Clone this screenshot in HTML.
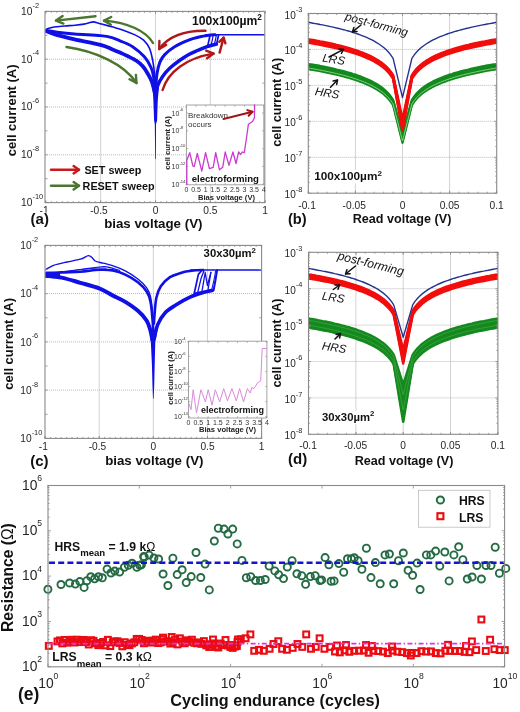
<!DOCTYPE html><html><head><meta charset="utf-8"><title>Resistive switching figure</title>
<style>html,body{margin:0;padding:0;background:#fff;width:520px;height:712px;overflow:hidden}svg{display:block;font-family:'Liberation Sans', Arial, Helvetica, sans-serif}</style></head><body>
<svg width="520" height="712" viewBox="0 0 520 712">
<rect width="520" height="712" fill="#fff"/>
<rect x="45" y="11.4" width="219.8" height="191.2" fill="#fff"/>
<line x1="100.7" y1="11.4" x2="100.7" y2="202.6" stroke="#d3d3d3" stroke-width="1" />
<line x1="155.5" y1="11.4" x2="155.5" y2="202.6" stroke="#d3d3d3" stroke-width="1" />
<line x1="210.3" y1="11.4" x2="210.3" y2="202.6" stroke="#d3d3d3" stroke-width="1" />
<line x1="45" y1="59.2" x2="264.8" y2="59.2" stroke="#b9b9b9" stroke-width="1" stroke-dasharray="1 1"/>
<line x1="45" y1="107" x2="264.8" y2="107" stroke="#b9b9b9" stroke-width="1" stroke-dasharray="1 1"/>
<line x1="45" y1="154.8" x2="264.8" y2="154.8" stroke="#b9b9b9" stroke-width="1" stroke-dasharray="1 1"/>
<path d="M45.3 30C45.9 29.7 47.5 28.8 49 28.3C50.5 27.8 51.3 27.4 54 27C56.7 26.6 61.5 26.3 65 26C68.5 25.7 71.8 25.5 75 25.2C78.2 24.9 81.7 24.5 84 24.1C86.3 23.7 87.5 23.2 89 22.8C90.5 22.4 91.8 21.9 93.3 21.9C94.8 21.9 96.6 22.6 98 23C99.4 23.4 99.2 23.5 101.5 24.1C103.8 24.7 108.2 25.8 112 26.8C115.8 27.9 120.2 29 124 30.4C127.8 31.8 131.7 33.3 135 34.9C138.3 36.5 141.2 38 143.6 40.2C146 42.5 148 44.9 149.5 48.4C151 51.9 152 56.8 152.8 61C153.6 65.2 154.1 69.2 154.5 73.7C154.9 78.2 155.2 85.6 155.3 88" stroke="#1010e6" stroke-width="1.6" fill="none" />
<path d="M45.3 30.4C47.3 30.7 52.4 31.6 57.3 32.2C62.2 32.8 67.4 33.4 74.6 34C81.8 34.6 94.3 35 100.5 35.6C106.7 36.2 108.8 36.7 112 37.6C115.2 38.5 116.6 39.3 120 40.8C123.4 42.3 128.5 44 132.6 46.7C136.7 49.4 141.3 53.3 144.4 56.8C147.5 60.3 149.6 64.3 151.2 67.8C152.8 71.3 153.1 74.2 153.7 77.9C154.3 81.6 154.8 88 155 90" stroke="#1010e6" stroke-width="2.9" fill="none" />
<path d="M45.3 30.8C47.3 31.5 52.4 33.8 57.3 35.2C62.2 36.6 67.4 37.8 74.6 39.4C81.8 41 94.3 43.2 100.5 44.8C106.7 46.4 108.8 47.9 112 49.2C115.2 50.5 117.3 51.4 120 52.6C122.7 53.8 125.2 54.8 128 56.2C130.8 57.6 134.3 59.3 136.8 61C139.3 62.7 141.2 64.4 143 66.5C144.8 68.6 146.3 71.1 147.8 73.7C149.3 76.3 150.9 79 152 82.1C153.1 85.1 154.2 90.3 154.6 92" stroke="#1010e6" stroke-width="3.8" fill="none" />
<line x1="205" y1="34.8" x2="264.8" y2="34.8" stroke="#1010e6" stroke-width="1.6" />
<path d="M155.6 90C155.8 87.4 156.2 78.8 156.9 74.2C157.6 69.6 158.5 65.7 159.8 62.4C161.1 59.1 162.2 57.2 164.7 54.6C167.2 52 170.5 49.2 174.6 46.7C178.7 44.2 185.2 41.4 189.3 39.8C193.4 38.2 195.8 37.8 199 37C202.2 36.2 205.9 35.6 208.7 35.2C211.5 34.8 214.8 34.9 216 34.8" stroke="#1010e6" stroke-width="3" fill="none" />
<path d="M156.4 92C156.7 90.8 156.8 87.6 157.9 85C159 82.4 160.8 79 162.8 76.2C164.8 73.4 166.9 70.9 169.7 68.3C172.5 65.7 176.2 62.8 179.5 60.5C182.8 58.2 186.2 56 189.3 54.3C192.4 52.6 195 51.6 198 50.3C201 49 203.8 47.7 207.1 46.6C210.3 45.5 215.8 44.3 217.5 43.8" stroke="#1010e6" stroke-width="3.4" fill="none" />
<polyline points="207.6,46.2 209,40 210,35.2" stroke="#1010e6" stroke-width="1.6" fill="none" stroke-linejoin="round" stroke-linecap="round" />
<polyline points="211,45.6 212.3,40 213.2,35.2" stroke="#1010e6" stroke-width="1.2" fill="none" stroke-linejoin="round" stroke-linecap="round" />
<polyline points="214.2,45 215.4,40 216.4,35.2" stroke="#1010e6" stroke-width="1.2" fill="none" stroke-linejoin="round" stroke-linecap="round" />
<polyline points="216.6,44.2 217.6,39.5 218.6,35" stroke="#1010e6" stroke-width="1.7" fill="none" stroke-linejoin="round" stroke-linecap="round" />
<line x1="206.5" y1="46.6" x2="218" y2="43.6" stroke="#1010e6" stroke-width="1.8" />
<path d="M152.4 86 L159.0 86 L157.9 99 L157.6 104 L157.1 120.6 L156.0 124 L155.9 158.5 L155.2 159.5 L154.8 124 L154.1 120.6 L153.5 104 L153.3 99 Z" stroke="none" stroke-width="1" fill="#1010e6" />
<path d="M95.5 16.2 L56 20.6" stroke="#4a7630" stroke-width="2.4" fill="none" stroke-linecap="round"/>
<polyline points="63.4,23.6 56,20.6 62.6,16" stroke="#4a7630" stroke-width="2.4" fill="none" stroke-linecap="round" stroke-linejoin="round"/>
<path d="M153 43 C146 31 128 22.5 104 20.6" stroke="#4a7630" stroke-width="2.4" fill="none" stroke-linecap="round"/>
<polyline points="110.9,24.7 104,20.6 111.2,17" stroke="#4a7630" stroke-width="2.4" fill="none" stroke-linecap="round" stroke-linejoin="round"/>
<path d="M66.5 47 C95 51 124 64 136.5 83" stroke="#4a7630" stroke-width="2.4" fill="none" stroke-linecap="round"/>
<polyline points="135.9,75 136.5,83 129.5,79.2" stroke="#4a7630" stroke-width="2.4" fill="none" stroke-linecap="round" stroke-linejoin="round"/>
<path d="M205.5 30.7 C190 30.5 170 34 159.2 49" stroke="#b01818" stroke-width="2.4" fill="none" stroke-linecap="round"/>
<polyline points="166.1,44.9 159.2,49 159.4,41" stroke="#b01818" stroke-width="2.4" fill="none" stroke-linecap="round" stroke-linejoin="round"/>
<path d="M162.6 90 C168 72 186 58 213.6 53.6" stroke="#b01818" stroke-width="2.4" fill="none" stroke-linecap="round"/>
<polyline points="206.2,50.6 213.6,53.6 207.1,58.2" stroke="#b01818" stroke-width="2.4" fill="none" stroke-linecap="round" stroke-linejoin="round"/>
<path d="M219.6 52.6 L223.6 37.6" stroke="#b01818" stroke-width="2.4" fill="none" stroke-linecap="round"/>
<polyline points="219.3,41.8 223.6,37.6 225.4,43.3" stroke="#b01818" stroke-width="2.4" fill="none" stroke-linecap="round" stroke-linejoin="round"/>
<rect x="190.5" y="14.6" width="72" height="13.2" fill="#fff"/>
<text x="192" y="25" font-size="12.2" font-weight="bold" text-anchor="start" fill="#111" font-style="normal" >100x100&#181;m<tspan font-size="8.2" dy="-4.6">2</tspan></text>
<path d="M51 169.7 L79 169.7" stroke="#c81a1a" stroke-width="2.4" fill="none" stroke-linecap="round"/>
<polyline points="73.6,166 79,169.7 73.6,173.4" stroke="#c81a1a" stroke-width="2.4" fill="none" stroke-linecap="round" stroke-linejoin="round"/>
<path d="M51 185.8 L79 185.8" stroke="#4a7630" stroke-width="2.4" fill="none" stroke-linecap="round"/>
<polyline points="73.6,182.1 79,185.8 73.6,189.5" stroke="#4a7630" stroke-width="2.4" fill="none" stroke-linecap="round" stroke-linejoin="round"/>
<text x="84.4" y="174" font-size="10.8" font-weight="bold" text-anchor="start" fill="#111" font-style="normal" >SET sweep</text>
<text x="82.6" y="190" font-size="10.8" font-weight="bold" text-anchor="start" fill="#111" font-style="normal" >RESET sweep</text>
<path d="M45.8 202.6v-2.5M45.8 11.4v2.5M100.7 202.6v-2.5M100.7 11.4v2.5M155.5 202.6v-2.5M155.5 11.4v2.5M210.3 202.6v-2.5M210.3 11.4v2.5M265.2 202.6v-2.5M265.2 11.4v2.5M45 202.6h2.5M264.8 202.6h-2.5M45 178.7h2.5M264.8 178.7h-2.5M45 154.8h2.5M264.8 154.8h-2.5M45 130.9h2.5M264.8 130.9h-2.5M45 107h2.5M264.8 107h-2.5M45 83.1h2.5M264.8 83.1h-2.5M45 59.2h2.5M264.8 59.2h-2.5M45 35.3h2.5M264.8 35.3h-2.5M45 11.4h2.5M264.8 11.4h-2.5M45.8 202.6v-1.5M45.8 11.4v1.5M51.3 202.6v-1.5M51.3 11.4v1.5M56.8 202.6v-1.5M56.8 11.4v1.5M62.3 202.6v-1.5M62.3 11.4v1.5M67.7 202.6v-1.5M67.7 11.4v1.5M73.2 202.6v-1.5M73.2 11.4v1.5M78.7 202.6v-1.5M78.7 11.4v1.5M84.2 202.6v-1.5M84.2 11.4v1.5M89.7 202.6v-1.5M89.7 11.4v1.5M95.2 202.6v-1.5M95.2 11.4v1.5M100.7 202.6v-1.5M100.7 11.4v1.5M106.1 202.6v-1.5M106.1 11.4v1.5M111.6 202.6v-1.5M111.6 11.4v1.5M117.1 202.6v-1.5M117.1 11.4v1.5M122.6 202.6v-1.5M122.6 11.4v1.5M128.1 202.6v-1.5M128.1 11.4v1.5M133.6 202.6v-1.5M133.6 11.4v1.5M139 202.6v-1.5M139 11.4v1.5M144.5 202.6v-1.5M144.5 11.4v1.5M150 202.6v-1.5M150 11.4v1.5M155.5 202.6v-1.5M155.5 11.4v1.5M161 202.6v-1.5M161 11.4v1.5M166.5 202.6v-1.5M166.5 11.4v1.5M172 202.6v-1.5M172 11.4v1.5M177.4 202.6v-1.5M177.4 11.4v1.5M182.9 202.6v-1.5M182.9 11.4v1.5M188.4 202.6v-1.5M188.4 11.4v1.5M193.9 202.6v-1.5M193.9 11.4v1.5M199.4 202.6v-1.5M199.4 11.4v1.5M204.9 202.6v-1.5M204.9 11.4v1.5M210.3 202.6v-1.5M210.3 11.4v1.5M215.8 202.6v-1.5M215.8 11.4v1.5M221.3 202.6v-1.5M221.3 11.4v1.5M226.8 202.6v-1.5M226.8 11.4v1.5M232.3 202.6v-1.5M232.3 11.4v1.5M237.8 202.6v-1.5M237.8 11.4v1.5M243.3 202.6v-1.5M243.3 11.4v1.5M248.7 202.6v-1.5M248.7 11.4v1.5M254.2 202.6v-1.5M254.2 11.4v1.5M259.7 202.6v-1.5M259.7 11.4v1.5M265.2 202.6v-1.5M265.2 11.4v1.5" stroke="#8a8a8a" stroke-width="0.8" fill="none" />
<rect x="45" y="11.4" width="219.8" height="191.2" fill="none" stroke="#8a8a8a" stroke-width="1.1"/>
<rect x="186.4" y="105" width="77.4" height="79.8" fill="#fff"/>
<rect x="186.4" y="105" width="77.4" height="79.8" fill="none" stroke="#9a9a9a" stroke-width="0.9"/>
<path d="M186.4 184.8v-1.8M186.4 105v1.8M196.1 184.8v-1.8M196.1 105v1.8M205.8 184.8v-1.8M205.8 105v1.8M215.4 184.8v-1.8M215.4 105v1.8M225.1 184.8v-1.8M225.1 105v1.8M234.8 184.8v-1.8M234.8 105v1.8M244.5 184.8v-1.8M244.5 105v1.8M254.1 184.8v-1.8M254.1 105v1.8M263.8 184.8v-1.8M263.8 105v1.8M186.4 113h1.8M263.8 113h-1.8M186.4 130.8h1.8M263.8 130.8h-1.8M186.4 148.6h1.8M263.8 148.6h-1.8M186.4 166.4h1.8M263.8 166.4h-1.8M186.4 184.2h1.8M263.8 184.2h-1.8" stroke="#9a9a9a" stroke-width="0.7" fill="none" />
<polyline points="186.8,184.5 186.8,160.3 189.7,152.7 192.9,166 194.2,166.6 197.3,153.3 201.8,171.1 205.6,152.7 209.4,168.6 213.2,167.3 215.7,152.7 219.5,169.8 222.7,167.3 225.2,152 229,165.4 232.9,152 236,163.5 238.6,152 240.5,154.6 242.4,152 244.3,152.7 246.2,140 248.4,124.2 252.5,121.5 254.4,118 254.6,105" stroke="#c93ccf" stroke-width="1.3" fill="none" stroke-linejoin="round" stroke-linecap="round" />
<text x="186.4" y="192.3" font-size="7" font-weight="normal" text-anchor="middle" fill="#333" font-style="normal" >0</text>
<text x="196.1" y="192.3" font-size="7" font-weight="normal" text-anchor="middle" fill="#333" font-style="normal" >0.5</text>
<text x="205.8" y="192.3" font-size="7" font-weight="normal" text-anchor="middle" fill="#333" font-style="normal" >1</text>
<text x="215.4" y="192.3" font-size="7" font-weight="normal" text-anchor="middle" fill="#333" font-style="normal" >1.5</text>
<text x="225.1" y="192.3" font-size="7" font-weight="normal" text-anchor="middle" fill="#333" font-style="normal" >2</text>
<text x="234.8" y="192.3" font-size="7" font-weight="normal" text-anchor="middle" fill="#333" font-style="normal" >2.5</text>
<text x="244.5" y="192.3" font-size="7" font-weight="normal" text-anchor="middle" fill="#333" font-style="normal" >3</text>
<text x="254.1" y="192.3" font-size="7" font-weight="normal" text-anchor="middle" fill="#333" font-style="normal" >3.5</text>
<text x="263.8" y="192.3" font-size="7" font-weight="normal" text-anchor="middle" fill="#333" font-style="normal" >4</text>
<text x="226.5" y="199.6" font-size="7.6" font-weight="bold" text-anchor="middle" fill="#222" font-style="normal" >Bias voltage (V)</text>
<text x="171.6" y="115.6" font-size="7" fill="#333">10<tspan font-size="4.2" dy="-4.2">-6</tspan></text>
<text x="171.6" y="133.4" font-size="7" fill="#333">10<tspan font-size="4.2" dy="-4.2">-8</tspan></text>
<text x="171.6" y="151.2" font-size="7" fill="#333">10<tspan font-size="4.2" dy="-4.2">-10</tspan></text>
<text x="171.6" y="169" font-size="7" fill="#333">10<tspan font-size="4.2" dy="-4.2">-12</tspan></text>
<text x="171.6" y="186.8" font-size="7" fill="#333">10<tspan font-size="4.2" dy="-4.2">-14</tspan></text>
<text transform="translate(170.2 143) rotate(-90)" font-size="7.6" font-weight="bold" text-anchor="middle" fill="#222">cell current (A)</text>
<text x="191.7" y="182" font-size="9.6" font-weight="bold" text-anchor="start" fill="#111" font-style="normal" >electroforming</text>
<text x="188" y="117.8" font-size="8" font-weight="normal" text-anchor="start" fill="#333" font-style="normal" >Breakdown</text>
<text x="188" y="127" font-size="8" font-weight="normal" text-anchor="start" fill="#333" font-style="normal" >occurs</text>
<path d="M223.5 119 L252.5 111.8" stroke="#a01515" stroke-width="2" fill="none" stroke-linecap="round"/>
<polyline points="247.3,110.1 252.5,111.8 248.6,115.7" stroke="#a01515" stroke-width="2" fill="none" stroke-linecap="round" stroke-linejoin="round"/>
<text x="21.1" y="14.8" font-size="10.2" fill="#262626">10<tspan font-size="7.4" dy="-7.2">-2</tspan></text>
<text x="21.1" y="62.6" font-size="10.2" fill="#262626">10<tspan font-size="7.4" dy="-7.2">-4</tspan></text>
<text x="21.1" y="110.4" font-size="10.2" fill="#262626">10<tspan font-size="7.4" dy="-7.2">-6</tspan></text>
<text x="21.1" y="158.2" font-size="10.2" fill="#262626">10<tspan font-size="7.4" dy="-7.2">-8</tspan></text>
<text x="21.1" y="206" font-size="10.2" fill="#262626">10<tspan font-size="7.4" dy="-7.2">-10</tspan></text>
<text x="44.1" y="214" font-size="10.2" font-weight="normal" text-anchor="middle" fill="#262626" font-style="normal" >-1</text>
<text x="99" y="214" font-size="10.2" font-weight="normal" text-anchor="middle" fill="#262626" font-style="normal" >-0.5</text>
<text x="155.5" y="214" font-size="10.2" font-weight="normal" text-anchor="middle" fill="#262626" font-style="normal" >0</text>
<text x="210.3" y="214" font-size="10.2" font-weight="normal" text-anchor="middle" fill="#262626" font-style="normal" >0.5</text>
<text x="265.2" y="214" font-size="10.2" font-weight="normal" text-anchor="middle" fill="#262626" font-style="normal" >1</text>
<text x="153.3" y="228.2" font-size="13.3" font-weight="bold" text-anchor="middle" fill="#111" font-style="normal" >bias voltage (V)</text>
<text transform="translate(16.2 110.3) rotate(-90)" font-size="13" font-weight="bold" text-anchor="middle" fill="#111">cell current (A)</text>
<rect x="31" y="212.6" width="18" height="15" fill="#fff"/>
<text x="30.6" y="223.6" font-size="15" font-weight="bold" text-anchor="start" fill="#111" font-style="normal" >(a)</text>
<rect x="308.3" y="13.5" width="188.4" height="179.7" fill="#fff"/>
<line x1="355.4" y1="13.5" x2="355.4" y2="193.2" stroke="#d3d3d3" stroke-width="1" />
<line x1="402.5" y1="13.5" x2="402.5" y2="193.2" stroke="#d3d3d3" stroke-width="1" />
<line x1="449.6" y1="13.5" x2="449.6" y2="193.2" stroke="#d3d3d3" stroke-width="1" />
<line x1="308.3" y1="49.4" x2="496.7" y2="49.4" stroke="#b9b9b9" stroke-width="1" stroke-dasharray="1 1"/>
<line x1="308.3" y1="85.4" x2="496.7" y2="85.4" stroke="#b9b9b9" stroke-width="1" stroke-dasharray="1 1"/>
<line x1="308.3" y1="121.3" x2="496.7" y2="121.3" stroke="#b9b9b9" stroke-width="1" stroke-dasharray="1 1"/>
<line x1="308.3" y1="157.3" x2="496.7" y2="157.3" stroke="#b9b9b9" stroke-width="1" stroke-dasharray="1 1"/>
<g stroke="#148a1e" stroke-width="2.3" fill="none" stroke-linejoin="round"><polyline points="308.3,63.9 310.7,64.3 313,64.7 315.4,65.1 317.7,65.5 320.1,66 322.4,66.4 324.8,66.9 327.1,67.4 329.5,67.9 331.9,68.4 334.2,68.9 336.6,69.5 338.9,70 341.3,70.6 343.6,71.2 346,71.9 348.3,72.5 350.7,73.2 353,74 355.4,74.7 357.8,75.5 360.1,76.4 362.5,77.3 364.8,78.2 367.2,79.2 369.5,80.3 371.9,81.4 374.2,82.7 376.6,84.1 378.9,85.5 381.3,87.2 383.7,89 386,91.1 388.4,93.5 390.7,96.4 393.1,99.8 402.5,133.5 411.9,99.8 414.3,96.4 416.6,93.5 419,91.1 421.3,89 423.7,87.2 426.1,85.5 428.4,84.1 430.8,82.7 433.1,81.4 435.5,80.3 437.8,79.2 440.2,78.2 442.5,77.3 444.9,76.4 447.2,75.5 449.6,74.7 452,74 454.3,73.2 456.7,72.5 459,71.9 461.4,71.2 463.7,70.6 466.1,70 468.4,69.5 470.8,68.9 473.1,68.4 475.5,67.9 477.9,67.4 480.2,66.9 482.6,66.4 484.9,66 487.3,65.5 489.6,65.1 492,64.7 494.3,64.3 496.7,63.9"/><polyline points="308.3,64.9 310.7,65.3 313,65.7 315.4,66.2 317.7,66.6 320.1,67 322.4,67.5 324.8,67.9 327.1,68.4 329.5,68.9 331.9,69.4 334.2,70 336.6,70.5 338.9,71.1 341.3,71.7 343.6,72.3 346,72.9 348.3,73.6 350.7,74.3 353,75 355.4,75.8 357.8,76.6 360.1,77.4 362.5,78.3 364.8,79.2 367.2,80.2 369.5,81.3 371.9,82.5 374.2,83.7 376.6,85.1 378.9,86.6 381.3,88.2 383.7,90.1 386,92.1 388.4,94.6 390.7,97.4 393.1,100.9 402.5,135.4 411.9,100.9 414.3,97.4 416.6,94.6 419,92.1 421.3,90.1 423.7,88.2 426.1,86.6 428.4,85.1 430.8,83.7 433.1,82.5 435.5,81.3 437.8,80.2 440.2,79.2 442.5,78.3 444.9,77.4 447.2,76.6 449.6,75.8 452,75 454.3,74.3 456.7,73.6 459,72.9 461.4,72.3 463.7,71.7 466.1,71.1 468.4,70.5 470.8,70 473.1,69.4 475.5,68.9 477.9,68.4 480.2,67.9 482.6,67.5 484.9,67 487.3,66.6 489.6,66.2 492,65.7 494.3,65.3 496.7,64.9"/><polyline points="308.3,66 310.7,66.4 313,66.8 315.4,67.2 317.7,67.6 320.1,68.1 322.4,68.5 324.8,69 327.1,69.5 329.5,70 331.9,70.5 334.2,71 336.6,71.5 338.9,72.1 341.3,72.7 343.6,73.3 346,74 348.3,74.6 350.7,75.3 353,76 355.4,76.8 357.8,77.6 360.1,78.4 362.5,79.3 364.8,80.3 367.2,81.3 369.5,82.4 371.9,83.5 374.2,84.8 376.6,86.1 378.9,87.6 381.3,89.3 383.7,91.1 386,93.2 388.4,95.6 390.7,98.4 393.1,101.9 402.5,137.2 411.9,101.9 414.3,98.4 416.6,95.6 419,93.2 421.3,91.1 423.7,89.3 426.1,87.6 428.4,86.1 430.8,84.8 433.1,83.5 435.5,82.4 437.8,81.3 440.2,80.3 442.5,79.3 444.9,78.4 447.2,77.6 449.6,76.8 452,76 454.3,75.3 456.7,74.6 459,74 461.4,73.3 463.7,72.7 466.1,72.1 468.4,71.5 470.8,71 473.1,70.5 475.5,70 477.9,69.5 480.2,69 482.6,68.5 484.9,68.1 487.3,67.6 489.6,67.2 492,66.8 494.3,66.4 496.7,66"/><polyline points="308.3,67 310.7,67.4 313,67.8 315.4,68.2 317.7,68.7 320.1,69.1 322.4,69.6 324.8,70 327.1,70.5 329.5,71 331.9,71.5 334.2,72 336.6,72.6 338.9,73.2 341.3,73.7 343.6,74.4 346,75 348.3,75.7 350.7,76.4 353,77.1 355.4,77.8 357.8,78.6 360.1,79.5 362.5,80.4 364.8,81.3 367.2,82.3 369.5,83.4 371.9,84.6 374.2,85.8 376.6,87.2 378.9,88.7 381.3,90.3 383.7,92.1 386,94.2 388.4,96.6 390.7,99.5 393.1,103 402.5,139.1 411.9,103 414.3,99.5 416.6,96.6 419,94.2 421.3,92.1 423.7,90.3 426.1,88.7 428.4,87.2 430.8,85.8 433.1,84.6 435.5,83.4 437.8,82.3 440.2,81.3 442.5,80.4 444.9,79.5 447.2,78.6 449.6,77.8 452,77.1 454.3,76.4 456.7,75.7 459,75 461.4,74.4 463.7,73.7 466.1,73.2 468.4,72.6 470.8,72 473.1,71.5 475.5,71 477.9,70.5 480.2,70 482.6,69.6 484.9,69.1 487.3,68.7 489.6,68.2 492,67.8 494.3,67.4 496.7,67"/><polyline points="308.3,68.1 310.7,68.5 313,68.9 315.4,69.3 317.7,69.7 320.1,70.1 322.4,70.6 324.8,71.1 327.1,71.5 329.5,72 331.9,72.6 334.2,73.1 336.6,73.6 338.9,74.2 341.3,74.8 343.6,75.4 346,76 348.3,76.7 350.7,77.4 353,78.1 355.4,78.9 357.8,79.7 360.1,80.5 362.5,81.4 364.8,82.4 367.2,83.4 369.5,84.4 371.9,85.6 374.2,86.9 376.6,88.2 378.9,89.7 381.3,91.3 383.7,93.2 386,95.3 388.4,97.7 390.7,100.5 393.1,104 402.5,140.9 411.9,104 414.3,100.5 416.6,97.7 419,95.3 421.3,93.2 423.7,91.3 426.1,89.7 428.4,88.2 430.8,86.9 433.1,85.6 435.5,84.4 437.8,83.4 440.2,82.4 442.5,81.4 444.9,80.5 447.2,79.7 449.6,78.9 452,78.1 454.3,77.4 456.7,76.7 459,76 461.4,75.4 463.7,74.8 466.1,74.2 468.4,73.6 470.8,73.1 473.1,72.6 475.5,72 477.9,71.5 480.2,71.1 482.6,70.6 484.9,70.1 487.3,69.7 489.6,69.3 492,68.9 494.3,68.5 496.7,68.1"/><polyline points="308.3,69.1 310.7,69.5 313,69.9 315.4,70.3 317.7,70.7 320.1,71.2 322.4,71.6 324.8,72.1 327.1,72.6 329.5,73.1 331.9,73.6 334.2,74.1 336.6,74.7 338.9,75.2 341.3,75.8 343.6,76.4 346,77.1 348.3,77.7 350.7,78.4 353,79.2 355.4,79.9 357.8,80.7 360.1,81.6 362.5,82.5 364.8,83.4 367.2,84.4 369.5,85.5 371.9,86.6 374.2,87.9 376.6,89.3 378.9,90.7 381.3,92.4 383.7,94.2 386,96.3 388.4,98.7 390.7,101.6 393.1,105 402.5,142.8 411.9,105 414.3,101.6 416.6,98.7 419,96.3 421.3,94.2 423.7,92.4 426.1,90.7 428.4,89.3 430.8,87.9 433.1,86.6 435.5,85.5 437.8,84.4 440.2,83.4 442.5,82.5 444.9,81.6 447.2,80.7 449.6,79.9 452,79.2 454.3,78.4 456.7,77.7 459,77.1 461.4,76.4 463.7,75.8 466.1,75.2 468.4,74.7 470.8,74.1 473.1,73.6 475.5,73.1 477.9,72.6 480.2,72.1 482.6,71.6 484.9,71.2 487.3,70.7 489.6,70.3 492,69.9 494.3,69.5 496.7,69.1"/></g>
<polyline points="308.3,68 310.7,68.4 313,68.8 315.4,69.2 317.7,69.6 320.1,70.1 322.4,70.5 324.8,71 327.1,71.5 329.5,72 331.9,72.5 334.2,73 336.6,73.6 338.9,74.1 341.3,74.7 343.6,75.3 346,76 348.3,76.6 350.7,77.3 353,78.1 355.4,78.8 357.8,79.6 360.1,80.5 362.5,81.4 364.8,82.3 367.2,83.3 369.5,84.4 371.9,85.5 374.2,86.8 376.6,88.2 378.9,89.6 381.3,91.3 383.7,93.1 386,95.2 388.4,97.6 390.7,100.5 393.1,103.9 402.5,141 411.9,103.9 414.3,100.5 416.6,97.6 419,95.2 421.3,93.1 423.7,91.3 426.1,89.6 428.4,88.2 430.8,86.8 433.1,85.5 435.5,84.4 437.8,83.3 440.2,82.3 442.5,81.4 444.9,80.5 447.2,79.6 449.6,78.8 452,78.1 454.3,77.3 456.7,76.6 459,76 461.4,75.3 463.7,74.7 466.1,74.1 468.4,73.6 470.8,73 473.1,72.5 475.5,72 477.9,71.5 480.2,71 482.6,70.5 484.9,70.1 487.3,69.6 489.6,69.2 492,68.8 494.3,68.4 496.7,68" stroke="#8ad68a" stroke-width="0.9" fill="none" stroke-linejoin="round"/>
<g stroke="#f20d0d" stroke-width="2.5" fill="none" stroke-linejoin="round"><polyline points="308.3,39.3 310.7,39.7 313,40.1 315.4,40.5 317.7,40.9 320.1,41.4 322.4,41.8 324.8,42.3 327.1,42.8 329.5,43.3 331.9,43.8 334.2,44.3 336.6,44.9 338.9,45.4 341.3,46 343.6,46.6 346,47.3 348.3,47.9 350.7,48.6 353,49.4 355.4,50.1 357.8,50.9 360.1,51.8 362.5,52.7 364.8,53.6 367.2,54.6 369.5,55.7 371.9,56.8 374.2,58.1 376.6,59.5 378.9,60.9 381.3,62.6 383.7,64.4 386,66.5 388.4,68.9 390.7,71.8 393.1,75.2 402.5,119.6 411.9,75.2 414.3,71.8 416.6,68.9 419,66.5 421.3,64.4 423.7,62.6 426.1,60.9 428.4,59.5 430.8,58.1 433.1,56.8 435.5,55.7 437.8,54.6 440.2,53.6 442.5,52.7 444.9,51.8 447.2,50.9 449.6,50.1 452,49.4 454.3,48.6 456.7,47.9 459,47.3 461.4,46.6 463.7,46 466.1,45.4 468.4,44.9 470.8,44.3 473.1,43.8 475.5,43.3 477.9,42.8 480.2,42.3 482.6,41.8 484.9,41.4 487.3,40.9 489.6,40.5 492,40.1 494.3,39.7 496.7,39.3"/><polyline points="308.3,40 310.7,40.4 313,40.8 315.4,41.2 317.7,41.6 320.1,42.1 322.4,42.5 324.8,43 327.1,43.5 329.5,44 331.9,44.5 334.2,45 336.6,45.5 338.9,46.1 341.3,46.7 343.6,47.3 346,48 348.3,48.6 350.7,49.3 353,50 355.4,50.8 357.8,51.6 360.1,52.4 362.5,53.3 364.8,54.3 367.2,55.3 369.5,56.4 371.9,57.5 374.2,58.8 376.6,60.1 378.9,61.6 381.3,63.3 383.7,65.1 386,67.2 388.4,69.6 390.7,72.4 393.1,75.9 402.5,121.8 411.9,75.9 414.3,72.4 416.6,69.6 419,67.2 421.3,65.1 423.7,63.3 426.1,61.6 428.4,60.1 430.8,58.8 433.1,57.5 435.5,56.4 437.8,55.3 440.2,54.3 442.5,53.3 444.9,52.4 447.2,51.6 449.6,50.8 452,50 454.3,49.3 456.7,48.6 459,48 461.4,47.3 463.7,46.7 466.1,46.1 468.4,45.5 470.8,45 473.1,44.5 475.5,44 477.9,43.5 480.2,43 482.6,42.5 484.9,42.1 487.3,41.6 489.6,41.2 492,40.8 494.3,40.4 496.7,40"/><polyline points="308.3,40.7 310.7,41.1 313,41.5 315.4,41.9 317.7,42.3 320.1,42.7 322.4,43.2 324.8,43.7 327.1,44.1 329.5,44.6 331.9,45.2 334.2,45.7 336.6,46.2 338.9,46.8 341.3,47.4 343.6,48 346,48.6 348.3,49.3 350.7,50 353,50.7 355.4,51.5 357.8,52.3 360.1,53.1 362.5,54 364.8,55 367.2,56 369.5,57 371.9,58.2 374.2,59.5 376.6,60.8 378.9,62.3 381.3,63.9 383.7,65.8 386,67.9 388.4,70.3 390.7,73.1 393.1,76.6 402.5,124.1 411.9,76.6 414.3,73.1 416.6,70.3 419,67.9 421.3,65.8 423.7,63.9 426.1,62.3 428.4,60.8 430.8,59.5 433.1,58.2 435.5,57 437.8,56 440.2,55 442.5,54 444.9,53.1 447.2,52.3 449.6,51.5 452,50.7 454.3,50 456.7,49.3 459,48.6 461.4,48 463.7,47.4 466.1,46.8 468.4,46.2 470.8,45.7 473.1,45.2 475.5,44.6 477.9,44.1 480.2,43.7 482.6,43.2 484.9,42.7 487.3,42.3 489.6,41.9 492,41.5 494.3,41.1 496.7,40.7"/><polyline points="308.3,41.3 310.7,41.7 313,42.1 315.4,42.6 317.7,43 320.1,43.4 322.4,43.9 324.8,44.3 327.1,44.8 329.5,45.3 331.9,45.8 334.2,46.4 336.6,46.9 338.9,47.5 341.3,48.1 343.6,48.7 346,49.3 348.3,50 350.7,50.7 353,51.4 355.4,52.2 357.8,53 360.1,53.8 362.5,54.7 364.8,55.6 367.2,56.6 369.5,57.7 371.9,58.9 374.2,60.1 376.6,61.5 378.9,63 381.3,64.6 383.7,66.5 386,68.5 388.4,71 390.7,73.8 393.1,77.3 402.5,126.3 411.9,77.3 414.3,73.8 416.6,71 419,68.5 421.3,66.5 423.7,64.6 426.1,63 428.4,61.5 430.8,60.1 433.1,58.9 435.5,57.7 437.8,56.6 440.2,55.6 442.5,54.7 444.9,53.8 447.2,53 449.6,52.2 452,51.4 454.3,50.7 456.7,50 459,49.3 461.4,48.7 463.7,48.1 466.1,47.5 468.4,46.9 470.8,46.4 473.1,45.8 475.5,45.3 477.9,44.8 480.2,44.3 482.6,43.9 484.9,43.4 487.3,43 489.6,42.6 492,42.1 494.3,41.7 496.7,41.3"/><polyline points="308.3,42 310.7,42.4 313,42.8 315.4,43.2 317.7,43.7 320.1,44.1 322.4,44.6 324.8,45 327.1,45.5 329.5,46 331.9,46.5 334.2,47 336.6,47.6 338.9,48.2 341.3,48.7 343.6,49.4 346,50 348.3,50.7 350.7,51.4 353,52.1 355.4,52.8 357.8,53.6 360.1,54.5 362.5,55.4 364.8,56.3 367.2,57.3 369.5,58.4 371.9,59.6 374.2,60.8 376.6,62.2 378.9,63.7 381.3,65.3 383.7,67.1 386,69.2 388.4,71.6 390.7,74.5 393.1,78 402.5,128.6 411.9,78 414.3,74.5 416.6,71.6 419,69.2 421.3,67.1 423.7,65.3 426.1,63.7 428.4,62.2 430.8,60.8 433.1,59.6 435.5,58.4 437.8,57.3 440.2,56.3 442.5,55.4 444.9,54.5 447.2,53.6 449.6,52.8 452,52.1 454.3,51.4 456.7,50.7 459,50 461.4,49.4 463.7,48.7 466.1,48.2 468.4,47.6 470.8,47 473.1,46.5 475.5,46 477.9,45.5 480.2,45 482.6,44.6 484.9,44.1 487.3,43.7 489.6,43.2 492,42.8 494.3,42.4 496.7,42"/><polyline points="308.3,42.7 310.7,43.1 313,43.5 315.4,43.9 317.7,44.3 320.1,44.8 322.4,45.2 324.8,45.7 327.1,46.2 329.5,46.7 331.9,47.2 334.2,47.7 336.6,48.3 338.9,48.8 341.3,49.4 343.6,50 346,50.7 348.3,51.3 350.7,52 353,52.8 355.4,53.5 357.8,54.3 360.1,55.2 362.5,56.1 364.8,57 367.2,58 369.5,59.1 371.9,60.2 374.2,61.5 376.6,62.9 378.9,64.3 381.3,66 383.7,67.8 386,69.9 388.4,72.3 390.7,75.2 393.1,78.6 402.5,130.8 411.9,78.6 414.3,75.2 416.6,72.3 419,69.9 421.3,67.8 423.7,66 426.1,64.3 428.4,62.9 430.8,61.5 433.1,60.2 435.5,59.1 437.8,58 440.2,57 442.5,56.1 444.9,55.2 447.2,54.3 449.6,53.5 452,52.8 454.3,52 456.7,51.3 459,50.7 461.4,50 463.7,49.4 466.1,48.8 468.4,48.3 470.8,47.7 473.1,47.2 475.5,46.7 477.9,46.2 480.2,45.7 482.6,45.2 484.9,44.8 487.3,44.3 489.6,43.9 492,43.5 494.3,43.1 496.7,42.7"/></g>
<polyline points="308.3,22.4 310.7,22.8 313,23.2 315.4,23.6 317.7,24 320.1,24.5 322.4,24.9 324.8,25.4 327.1,25.9 329.5,26.4 331.9,26.9 334.2,27.4 336.6,28 338.9,28.5 341.3,29.1 343.6,29.7 346,30.4 348.3,31 350.7,31.7 353,32.5 355.4,33.2 357.8,34 360.1,34.9 362.5,35.8 364.8,36.7 367.2,37.7 369.5,38.8 371.9,39.9 374.2,41.2 376.6,42.6 378.9,44 381.3,45.7 383.7,47.5 386,49.6 388.4,52 390.7,54.9 393.1,58.3 402.5,97.6 411.9,58.3 414.3,54.9 416.6,52 419,49.6 421.3,47.5 423.7,45.7 426.1,44 428.4,42.6 430.8,41.2 433.1,39.9 435.5,38.8 437.8,37.7 440.2,36.7 442.5,35.8 444.9,34.9 447.2,34 449.6,33.2 452,32.5 454.3,31.7 456.7,31 459,30.4 461.4,29.7 463.7,29.1 466.1,28.5 468.4,28 470.8,27.4 473.1,26.9 475.5,26.4 477.9,25.9 480.2,25.4 482.6,24.9 484.9,24.5 487.3,24 489.6,23.6 492,23.2 494.3,22.8 496.7,22.4" stroke="#24338f" stroke-width="1.4" fill="none" stroke-linejoin="round"/>
<path d="M308.3 193.2v-2.5M308.3 13.5v2.5M355.4 193.2v-2.5M355.4 13.5v2.5M402.5 193.2v-2.5M402.5 13.5v2.5M449.6 193.2v-2.5M449.6 13.5v2.5M496.7 193.2v-2.5M496.7 13.5v2.5M308.3 13.5h2.5M496.7 13.5h-2.5M308.3 49.4h2.5M496.7 49.4h-2.5M308.3 85.4h2.5M496.7 85.4h-2.5M308.3 121.3h2.5M496.7 121.3h-2.5M308.3 157.3h2.5M496.7 157.3h-2.5M308.3 193.2h2.5M496.7 193.2h-2.5M308.3 193.2v-1.5M308.3 13.5v1.5M317.7 193.2v-1.5M317.7 13.5v1.5M327.1 193.2v-1.5M327.1 13.5v1.5M336.6 193.2v-1.5M336.6 13.5v1.5M346 193.2v-1.5M346 13.5v1.5M355.4 193.2v-1.5M355.4 13.5v1.5M364.8 193.2v-1.5M364.8 13.5v1.5M374.2 193.2v-1.5M374.2 13.5v1.5M383.7 193.2v-1.5M383.7 13.5v1.5M393.1 193.2v-1.5M393.1 13.5v1.5M402.5 193.2v-1.5M402.5 13.5v1.5M411.9 193.2v-1.5M411.9 13.5v1.5M421.3 193.2v-1.5M421.3 13.5v1.5M430.8 193.2v-1.5M430.8 13.5v1.5M440.2 193.2v-1.5M440.2 13.5v1.5M449.6 193.2v-1.5M449.6 13.5v1.5M459 193.2v-1.5M459 13.5v1.5M468.4 193.2v-1.5M468.4 13.5v1.5M477.9 193.2v-1.5M477.9 13.5v1.5M487.3 193.2v-1.5M487.3 13.5v1.5M496.7 193.2v-1.5M496.7 13.5v1.5M308.3 38.6h1.5M496.7 38.6h-1.5M308.3 32.3h1.5M496.7 32.3h-1.5M308.3 27.8h1.5M496.7 27.8h-1.5M308.3 24.3h1.5M496.7 24.3h-1.5M308.3 21.5h1.5M496.7 21.5h-1.5M308.3 19.1h1.5M496.7 19.1h-1.5M308.3 17h1.5M496.7 17h-1.5M308.3 15.1h1.5M496.7 15.1h-1.5M308.3 74.6h1.5M496.7 74.6h-1.5M308.3 68.2h1.5M496.7 68.2h-1.5M308.3 63.7h1.5M496.7 63.7h-1.5M308.3 60.3h1.5M496.7 60.3h-1.5M308.3 57.4h1.5M496.7 57.4h-1.5M308.3 55h1.5M496.7 55h-1.5M308.3 52.9h1.5M496.7 52.9h-1.5M308.3 51.1h1.5M496.7 51.1h-1.5M308.3 110.5h1.5M496.7 110.5h-1.5M308.3 104.2h1.5M496.7 104.2h-1.5M308.3 99.7h1.5M496.7 99.7h-1.5M308.3 96.2h1.5M496.7 96.2h-1.5M308.3 93.4h1.5M496.7 93.4h-1.5M308.3 90.9h1.5M496.7 90.9h-1.5M308.3 88.9h1.5M496.7 88.9h-1.5M308.3 87h1.5M496.7 87h-1.5M308.3 146.4h1.5M496.7 146.4h-1.5M308.3 140.1h1.5M496.7 140.1h-1.5M308.3 135.6h1.5M496.7 135.6h-1.5M308.3 132.1h1.5M496.7 132.1h-1.5M308.3 129.3h1.5M496.7 129.3h-1.5M308.3 126.9h1.5M496.7 126.9h-1.5M308.3 124.8h1.5M496.7 124.8h-1.5M308.3 123h1.5M496.7 123h-1.5M308.3 182.4h1.5M496.7 182.4h-1.5M308.3 176.1h1.5M496.7 176.1h-1.5M308.3 171.6h1.5M496.7 171.6h-1.5M308.3 168.1h1.5M496.7 168.1h-1.5M308.3 165.2h1.5M496.7 165.2h-1.5M308.3 162.8h1.5M496.7 162.8h-1.5M308.3 160.7h1.5M496.7 160.7h-1.5M308.3 158.9h1.5M496.7 158.9h-1.5" stroke="#8a8a8a" stroke-width="0.8" fill="none" />
<rect x="308.3" y="13.5" width="188.4" height="179.7" fill="none" stroke="#8a8a8a" stroke-width="1.1"/>
<text transform="translate(344.6 19.8) rotate(15)" font-size="11.6" font-style="italic" fill="#111">post-forming</text>
<path d="M361 25 L352.5 31.8" stroke="#111" stroke-width="1.5" fill="none" stroke-linecap="round"/>
<polyline points="357,31.6 352.5,31.8 353.9,27.5" stroke="#111" stroke-width="1.5" fill="none" stroke-linecap="round" stroke-linejoin="round"/>
<text transform="translate(322 61.5) rotate(9)" font-size="11.6" font-style="italic" fill="#111">LRS</text>
<path d="M329 57 L343.5 49.4" stroke="#111" stroke-width="1.5" fill="none" stroke-linecap="round"/>
<polyline points="339,48.9 343.5,49.4 341.4,53.4" stroke="#111" stroke-width="1.5" fill="none" stroke-linecap="round" stroke-linejoin="round"/>
<text transform="translate(314.5 95) rotate(9)" font-size="11.6" font-style="italic" fill="#111">HRS</text>
<path d="M330.5 87.2 L337.5 80" stroke="#111" stroke-width="1.5" fill="none" stroke-linecap="round"/>
<polyline points="333.1,80.9 337.5,80 336.7,84.4" stroke="#111" stroke-width="1.5" fill="none" stroke-linecap="round" stroke-linejoin="round"/>
<rect x="312.6" y="169.8" width="71" height="13.4" fill="#fff"/>
<text x="314.2" y="180.2" font-size="11.8" font-weight="bold" text-anchor="start" fill="#111" font-style="normal" >100x100&#181;m<tspan font-size="8" dy="-4.4">2</tspan></text>
<text x="284.6" y="18.5" font-size="10" fill="#262626">10<tspan font-size="7.4" dy="-6.4">-3</tspan></text>
<text x="284.6" y="54.4" font-size="10" fill="#262626">10<tspan font-size="7.4" dy="-6.4">-4</tspan></text>
<text x="284.6" y="90.4" font-size="10" fill="#262626">10<tspan font-size="7.4" dy="-6.4">-5</tspan></text>
<text x="284.6" y="126.3" font-size="10" fill="#262626">10<tspan font-size="7.4" dy="-6.4">-6</tspan></text>
<text x="284.6" y="162.3" font-size="10" fill="#262626">10<tspan font-size="7.4" dy="-6.4">-7</tspan></text>
<text x="284.6" y="198.2" font-size="10" fill="#262626">10<tspan font-size="7.4" dy="-6.4">-8</tspan></text>
<text x="307.1" y="208.5" font-size="10.2" font-weight="normal" text-anchor="middle" fill="#262626" font-style="normal" >-0.1</text>
<text x="354.2" y="208.5" font-size="10.2" font-weight="normal" text-anchor="middle" fill="#262626" font-style="normal" >-0.05</text>
<text x="402.5" y="208.5" font-size="10.2" font-weight="normal" text-anchor="middle" fill="#262626" font-style="normal" >0</text>
<text x="449.6" y="208.5" font-size="10.2" font-weight="normal" text-anchor="middle" fill="#262626" font-style="normal" >0.05</text>
<text x="496.7" y="208.5" font-size="10.2" font-weight="normal" text-anchor="middle" fill="#262626" font-style="normal" >0.1</text>
<text x="402" y="223.3" font-size="12.6" font-weight="bold" text-anchor="middle" fill="#111" font-style="normal" >Read voltage (V)</text>
<text transform="translate(281 102.3) rotate(-90)" font-size="12.6" font-weight="bold" text-anchor="middle" fill="#111">cell current (A)</text>
<text x="288" y="224" font-size="14.6" font-weight="bold" text-anchor="start" fill="#111" font-style="normal" >(b)</text>
<rect x="45" y="245.4" width="216.6" height="193" fill="#fff"/>
<line x1="99.2" y1="245.4" x2="99.2" y2="438.4" stroke="#d3d3d3" stroke-width="1" />
<line x1="153.3" y1="245.4" x2="153.3" y2="438.4" stroke="#d3d3d3" stroke-width="1" />
<line x1="207.5" y1="245.4" x2="207.5" y2="438.4" stroke="#d3d3d3" stroke-width="1" />
<line x1="45" y1="293.6" x2="261.6" y2="293.6" stroke="#b9b9b9" stroke-width="1" stroke-dasharray="1 1"/>
<line x1="45" y1="341.9" x2="261.6" y2="341.9" stroke="#b9b9b9" stroke-width="1" stroke-dasharray="1 1"/>
<line x1="45" y1="390.1" x2="261.6" y2="390.1" stroke="#b9b9b9" stroke-width="1" stroke-dasharray="1 1"/>
<path d="M45.2 269.9C46.6 269.1 49.9 266.7 53.5 265.4C57.1 264.1 62.5 263 67 262C71.5 261 77.2 260.1 80.4 259.2C83.6 258.3 84.6 257.2 86 256.6C87.4 256 87.6 255.5 88.6 255.6C89.6 255.7 90.7 256.4 91.8 257.3C92.9 258.2 93.3 260 95.2 261C97.1 262 100.4 262.4 103.3 263.2C106.2 264 108.9 264.4 112.6 265.7C116.3 267 121.1 268.6 125.3 270.8C129.5 273 134.3 276.2 137.9 279C141.5 281.8 144.6 284.9 146.7 287.8C148.8 290.8 149.6 292.7 150.5 296.7C151.4 300.7 152 307.1 152.4 311.8C152.8 316.5 153.1 322.8 153.2 325" stroke="#1010e6" stroke-width="1.4" fill="none" />
<path d="M45.2 273.5C47.9 273.3 55.6 272.7 61.5 272.4C67.4 272.1 74.1 272.1 80.4 271.7C86.7 271.3 93.8 270 99.2 269.8C104.6 269.6 108.2 269.6 112.6 270.4C116.9 271.2 121.1 272.6 125.3 274.6C129.5 276.6 134.3 279.4 137.9 282.2C141.5 285 144.6 288.4 146.7 291.6C148.8 294.9 149.6 297.3 150.5 301.7C151.4 306.1 152 313.3 152.4 318C152.8 322.7 153.1 328 153.2 330" stroke="#1010e6" stroke-width="2.6" fill="none" />
<path d="M60 272C63.3 271.6 73.5 270.3 80 269.5C86.5 268.7 95.2 267.5 99.2 267C103.2 266.5 102.2 266.5 104 266.6C105.8 266.7 107.3 266.9 110 267.6C112.7 268.3 118.3 270.1 120 270.6" stroke="#1010e6" stroke-width="1.1" fill="none" />
<path d="M70 271C73.3 270.6 84.5 269.1 90 268.6C95.5 268.1 100.2 267.9 103 268C105.8 268.1 106.3 269.2 107 269.5" stroke="#1010e6" stroke-width="0.9" fill="none" />
<path d="M45.2 275.5C47.9 275.9 55.6 276.4 61.5 277.6C67.4 278.8 74.1 281 80.4 282.8C86.7 284.6 93.8 286.3 99.2 288.4C104.6 290.5 108.2 293.1 112.6 295.4C116.9 297.6 121.1 299.3 125.3 301.9C129.5 304.5 134.3 307.7 137.9 310.8C141.5 313.9 144.6 317.4 146.7 320.7C148.8 324 149.5 327.4 150.5 330.8C151.5 334.2 152.2 339.3 152.6 341" stroke="#1010e6" stroke-width="4" fill="none" />
<path d="M45.5 271.5 L60 272 L60 278.5 L45.5 277.8 Z" stroke="none" stroke-width="1" fill="#1010e6" />
<line x1="190" y1="270" x2="261.6" y2="270" stroke="#1010e6" stroke-width="1.6" />
<path d="M153.8 324.6C154.2 320.2 155 304.9 156.2 298.5C157.4 292.1 158.5 289.8 160.8 286.2C163.1 282.6 166.7 279.4 170 277.2C173.3 275 177.8 274 180.8 273C183.8 272 185.5 271.7 188 271.2C190.5 270.7 193.3 270.4 196 270.2C198.7 270 202.7 270 204 270" stroke="#1010e6" stroke-width="2.6" fill="none" />
<path d="M153.8 340C154.5 337.4 155.8 329.2 157.7 324.6C159.6 320 162.3 315.8 165.4 312.5C168.5 309.2 172.1 307.4 176.2 304.8C180.3 302.2 185.9 299.1 190 297.2C194.1 295.3 197 294.4 200.8 293.2C204.6 292 211 290.7 213 290.2" stroke="#1010e6" stroke-width="3.6" fill="none" />
<polyline points="194.2,293.5 196.5,283 198.4,274.4 201.9,270.2" stroke="#1010e6" stroke-width="1.7" fill="none" stroke-linejoin="round" stroke-linecap="round" />
<polyline points="197.7,292.4 201.2,277.9 203.9,271" stroke="#1010e6" stroke-width="1.3" fill="none" stroke-linejoin="round" stroke-linecap="round" />
<polyline points="202,291.2 205.2,272.5 207.4,285.5 210.9,272.3" stroke="#1010e6" stroke-width="1.3" fill="none" stroke-linejoin="round" stroke-linecap="round" />
<polyline points="208.1,289.4 210.9,272.3" stroke="#1010e6" stroke-width="1.2" fill="none" stroke-linejoin="round" stroke-linecap="round" />
<polyline points="213.6,290.3 215.5,280 217.1,270.2" stroke="#1010e6" stroke-width="2" fill="none" stroke-linejoin="round" stroke-linecap="round" />
<polyline points="211.5,290.6 214.2,279 215.6,271" stroke="#1010e6" stroke-width="1.1" fill="none" stroke-linejoin="round" stroke-linecap="round" />
<line x1="194.2" y1="293.8" x2="213.6" y2="290.3" stroke="#1010e6" stroke-width="2.4" />
<path d="M149.2 330 L157.5 330 L156.4 337 L155.3 341.2 L154.7 364 L154.2 386 L153.6 398.7 L153.0 398.7 L152.5 386 L151.9 364 L150.8 341.2 L150.2 337 Z" stroke="none" stroke-width="1" fill="#1010e6" />
<rect x="202.2" y="247.6" width="55" height="13" fill="#fff"/>
<text x="203.6" y="257.4" font-size="11.3" font-weight="bold" text-anchor="start" fill="#111" font-style="normal" >30x30&#181;m<tspan font-size="7.8" dy="-4.3">2</tspan></text>
<path d="M45 438.4v-2.5M45 245.4v2.5M99.2 438.4v-2.5M99.2 245.4v2.5M153.3 438.4v-2.5M153.3 245.4v2.5M207.5 438.4v-2.5M207.5 245.4v2.5M261.6 438.4v-2.5M261.6 245.4v2.5M45 438.4h2.5M261.6 438.4h-2.5M45 414.3h2.5M261.6 414.3h-2.5M45 390.1h2.5M261.6 390.1h-2.5M45 366h2.5M261.6 366h-2.5M45 341.9h2.5M261.6 341.9h-2.5M45 317.8h2.5M261.6 317.8h-2.5M45 293.6h2.5M261.6 293.6h-2.5M45 269.5h2.5M261.6 269.5h-2.5M45 245.4h2.5M261.6 245.4h-2.5M45 438.4v-1.5M45 245.4v1.5M50.4 438.4v-1.5M50.4 245.4v1.5M55.8 438.4v-1.5M55.8 245.4v1.5M61.2 438.4v-1.5M61.2 245.4v1.5M66.7 438.4v-1.5M66.7 245.4v1.5M72.1 438.4v-1.5M72.1 245.4v1.5M77.5 438.4v-1.5M77.5 245.4v1.5M82.9 438.4v-1.5M82.9 245.4v1.5M88.3 438.4v-1.5M88.3 245.4v1.5M93.7 438.4v-1.5M93.7 245.4v1.5M99.2 438.4v-1.5M99.2 245.4v1.5M104.6 438.4v-1.5M104.6 245.4v1.5M110 438.4v-1.5M110 245.4v1.5M115.4 438.4v-1.5M115.4 245.4v1.5M120.8 438.4v-1.5M120.8 245.4v1.5M126.2 438.4v-1.5M126.2 245.4v1.5M131.6 438.4v-1.5M131.6 245.4v1.5M137.1 438.4v-1.5M137.1 245.4v1.5M142.5 438.4v-1.5M142.5 245.4v1.5M147.9 438.4v-1.5M147.9 245.4v1.5M153.3 438.4v-1.5M153.3 245.4v1.5M158.7 438.4v-1.5M158.7 245.4v1.5M164.1 438.4v-1.5M164.1 245.4v1.5M169.5 438.4v-1.5M169.5 245.4v1.5M175 438.4v-1.5M175 245.4v1.5M180.4 438.4v-1.5M180.4 245.4v1.5M185.8 438.4v-1.5M185.8 245.4v1.5M191.2 438.4v-1.5M191.2 245.4v1.5M196.6 438.4v-1.5M196.6 245.4v1.5M202 438.4v-1.5M202 245.4v1.5M207.5 438.4v-1.5M207.5 245.4v1.5M212.9 438.4v-1.5M212.9 245.4v1.5M218.3 438.4v-1.5M218.3 245.4v1.5M223.7 438.4v-1.5M223.7 245.4v1.5M229.1 438.4v-1.5M229.1 245.4v1.5M234.5 438.4v-1.5M234.5 245.4v1.5M239.9 438.4v-1.5M239.9 245.4v1.5M245.4 438.4v-1.5M245.4 245.4v1.5M250.8 438.4v-1.5M250.8 245.4v1.5M256.2 438.4v-1.5M256.2 245.4v1.5M261.6 438.4v-1.5M261.6 245.4v1.5" stroke="#8a8a8a" stroke-width="0.8" fill="none" />
<rect x="45" y="245.4" width="216.6" height="193" fill="none" stroke="#8a8a8a" stroke-width="1.1"/>
<rect x="188.5" y="341.2" width="78.4" height="76.8" fill="#fff"/>
<rect x="188.5" y="341.2" width="78.4" height="76.8" fill="none" stroke="#9a9a9a" stroke-width="0.9"/>
<path d="M188.5 418v-1.8M188.5 341.2v1.8M198.3 418v-1.8M198.3 341.2v1.8M208.1 418v-1.8M208.1 341.2v1.8M217.9 418v-1.8M217.9 341.2v1.8M227.7 418v-1.8M227.7 341.2v1.8M237.5 418v-1.8M237.5 341.2v1.8M247.3 418v-1.8M247.3 341.2v1.8M257.1 418v-1.8M257.1 341.2v1.8M266.9 418v-1.8M266.9 341.2v1.8M188.5 341.4h1.8M266.9 341.4h-1.8M188.5 356.4h1.8M266.9 356.4h-1.8M188.5 371.5h1.8M266.9 371.5h-1.8M188.5 386.5h1.8M266.9 386.5h-1.8M188.5 401.6h1.8M266.9 401.6h-1.8M188.5 416.6h1.8M266.9 416.6h-1.8" stroke="#9a9a9a" stroke-width="0.7" fill="none" />
<polyline points="188.8,403 191,409.6 193.2,389.7 196.5,413 200.9,389.7 205.4,401.9 208.2,389.7 212,405.2 215.3,389.7 219.7,401.9 223.7,388.6 227.5,400.8 231.9,388.6 236.3,400.8 239.6,388.6 243.6,401.9 247.4,388.6 250.3,393 251.8,387.5 254,388.6 257.3,383.1 260.7,380.9 262.2,348.6 266.7,348.4" stroke="#d98ad9" stroke-width="1" fill="none" stroke-linejoin="round" stroke-linecap="round" />
<text x="188.5" y="425" font-size="7" font-weight="normal" text-anchor="middle" fill="#333" font-style="normal" >0</text>
<text x="198.3" y="425" font-size="7" font-weight="normal" text-anchor="middle" fill="#333" font-style="normal" >0.5</text>
<text x="208.1" y="425" font-size="7" font-weight="normal" text-anchor="middle" fill="#333" font-style="normal" >1</text>
<text x="217.9" y="425" font-size="7" font-weight="normal" text-anchor="middle" fill="#333" font-style="normal" >1.5</text>
<text x="227.7" y="425" font-size="7" font-weight="normal" text-anchor="middle" fill="#333" font-style="normal" >2</text>
<text x="237.5" y="425" font-size="7" font-weight="normal" text-anchor="middle" fill="#333" font-style="normal" >2.5</text>
<text x="247.3" y="425" font-size="7" font-weight="normal" text-anchor="middle" fill="#333" font-style="normal" >3</text>
<text x="257.1" y="425" font-size="7" font-weight="normal" text-anchor="middle" fill="#333" font-style="normal" >3.5</text>
<text x="266.9" y="425" font-size="7" font-weight="normal" text-anchor="middle" fill="#333" font-style="normal" >4</text>
<text x="227.5" y="432.2" font-size="7.6" font-weight="bold" text-anchor="middle" fill="#222" font-style="normal" >Bias voltage (V)</text>
<text x="174.0" y="344" font-size="7" fill="#333">10<tspan font-size="4.2" dy="-4.2">-4</tspan></text>
<text x="174.0" y="359" font-size="7" fill="#333">10<tspan font-size="4.2" dy="-4.2">-6</tspan></text>
<text x="174.0" y="374.1" font-size="7" fill="#333">10<tspan font-size="4.2" dy="-4.2">-8</tspan></text>
<text x="174.0" y="389.1" font-size="7" fill="#333">10<tspan font-size="4.2" dy="-4.2">-10</tspan></text>
<text x="174.0" y="404.2" font-size="7" fill="#333">10<tspan font-size="4.2" dy="-4.2">-12</tspan></text>
<text x="174.0" y="419.2" font-size="7" fill="#333">10<tspan font-size="4.2" dy="-4.2">-14</tspan></text>
<text transform="translate(172.5 378) rotate(-90)" font-size="7.6" font-weight="bold" text-anchor="middle" fill="#222">cell current (A)</text>
<text x="201" y="413.4" font-size="9" font-weight="bold" text-anchor="start" fill="#111" font-style="normal" >electroforming</text>
<text x="20.3" y="249" font-size="10.2" fill="#262626">10<tspan font-size="7.4" dy="-7.2">-2</tspan></text>
<text x="20.3" y="297.2" font-size="10.2" fill="#262626">10<tspan font-size="7.4" dy="-7.2">-4</tspan></text>
<text x="20.3" y="345.5" font-size="10.2" fill="#262626">10<tspan font-size="7.4" dy="-7.2">-6</tspan></text>
<text x="20.3" y="393.8" font-size="10.2" fill="#262626">10<tspan font-size="7.4" dy="-7.2">-8</tspan></text>
<text x="20.3" y="442" font-size="10.2" fill="#262626">10<tspan font-size="7.4" dy="-7.2">-10</tspan></text>
<text x="43.3" y="449.6" font-size="10.2" font-weight="normal" text-anchor="middle" fill="#262626" font-style="normal" >-1</text>
<text x="97.5" y="449.6" font-size="10.2" font-weight="normal" text-anchor="middle" fill="#262626" font-style="normal" >-0.5</text>
<text x="153.3" y="449.6" font-size="10.2" font-weight="normal" text-anchor="middle" fill="#262626" font-style="normal" >0</text>
<text x="207.5" y="449.6" font-size="10.2" font-weight="normal" text-anchor="middle" fill="#262626" font-style="normal" >0.5</text>
<text x="261.6" y="449.6" font-size="10.2" font-weight="normal" text-anchor="middle" fill="#262626" font-style="normal" >1</text>
<text x="154.3" y="464.6" font-size="13.3" font-weight="bold" text-anchor="middle" fill="#111" font-style="normal" >bias voltage (V)</text>
<text transform="translate(13.2 343.8) rotate(-90)" font-size="13" font-weight="bold" text-anchor="middle" fill="#111">cell current (A)</text>
<text x="30.2" y="466.4" font-size="15" font-weight="bold" text-anchor="start" fill="#111" font-style="normal" >(c)</text>
<rect x="308.5" y="252.3" width="189.4" height="182" fill="#fff"/>
<line x1="355.9" y1="252.3" x2="355.9" y2="434.3" stroke="#d3d3d3" stroke-width="1" />
<line x1="403.2" y1="252.3" x2="403.2" y2="434.3" stroke="#d3d3d3" stroke-width="1" />
<line x1="450.5" y1="252.3" x2="450.5" y2="434.3" stroke="#d3d3d3" stroke-width="1" />
<line x1="308.5" y1="288.7" x2="497.9" y2="288.7" stroke="#b9b9b9" stroke-width="1" stroke-dasharray="1 1"/>
<line x1="308.5" y1="325.1" x2="497.9" y2="325.1" stroke="#b9b9b9" stroke-width="1" stroke-dasharray="1 1"/>
<line x1="308.5" y1="361.5" x2="497.9" y2="361.5" stroke="#b9b9b9" stroke-width="1" stroke-dasharray="1 1"/>
<line x1="308.5" y1="397.9" x2="497.9" y2="397.9" stroke="#b9b9b9" stroke-width="1" stroke-dasharray="1 1"/>
<g stroke="#148a1e" stroke-width="2.6" fill="none" stroke-linejoin="round"><polyline points="308.5,318.6 310.9,319 313.2,319.4 315.6,319.8 318,320.3 320.3,320.7 322.7,321.2 325.1,321.6 327.4,322.1 329.8,322.6 332.2,323.1 334.5,323.7 336.9,324.2 339.3,324.8 341.6,325.4 344,326 346.4,326.7 348.7,327.3 351.1,328.1 353.5,328.8 355.9,329.6 358.2,330.4 360.6,331.2 363,332.1 365.3,333.1 367.7,334.1 370.1,335.2 372.4,336.4 374.8,337.6 377.2,339 379.5,340.5 381.9,342.2 384.3,344 386.6,346.2 389,348.6 391.4,351.5 393.7,355 403.2,385 412.7,355 415,351.5 417.4,348.6 419.8,346.2 422.1,344 424.5,342.2 426.9,340.5 429.2,339 431.6,337.6 434,336.4 436.3,335.2 438.7,334.1 441.1,333.1 443.4,332.1 445.8,331.2 448.2,330.4 450.5,329.6 452.9,328.8 455.3,328.1 457.7,327.3 460,326.7 462.4,326 464.8,325.4 467.1,324.8 469.5,324.2 471.9,323.7 474.2,323.1 476.6,322.6 479,322.1 481.3,321.6 483.7,321.2 486.1,320.7 488.4,320.3 490.8,319.8 493.2,319.4 495.5,319 497.9,318.6"/><polyline points="308.5,319.7 310.9,320.1 313.2,320.5 315.6,321 318,321.4 320.3,321.8 322.7,322.3 325.1,322.8 327.4,323.3 329.8,323.8 332.2,324.3 334.5,324.8 336.9,325.4 339.3,325.9 341.6,326.5 344,327.2 346.4,327.8 348.7,328.5 351.1,329.2 353.5,329.9 355.9,330.7 358.2,331.5 360.6,332.3 363,333.3 365.3,334.2 367.7,335.2 370.1,336.3 372.4,337.5 374.8,338.8 377.2,340.1 379.5,341.6 381.9,343.3 384.3,345.2 386.6,347.3 389,349.7 391.4,352.6 393.7,356.1 403.2,389.6 412.7,356.1 415,352.6 417.4,349.7 419.8,347.3 422.1,345.2 424.5,343.3 426.9,341.6 429.2,340.1 431.6,338.8 434,337.5 436.3,336.3 438.7,335.2 441.1,334.2 443.4,333.3 445.8,332.3 448.2,331.5 450.5,330.7 452.9,329.9 455.3,329.2 457.7,328.5 460,327.8 462.4,327.2 464.8,326.5 467.1,325.9 469.5,325.4 471.9,324.8 474.2,324.3 476.6,323.8 479,323.3 481.3,322.8 483.7,322.3 486.1,321.8 488.4,321.4 490.8,321 493.2,320.5 495.5,320.1 497.9,319.7"/><polyline points="308.5,320.9 310.9,321.3 313.2,321.7 315.6,322.1 318,322.5 320.3,323 322.7,323.4 325.1,323.9 327.4,324.4 329.8,324.9 332.2,325.4 334.5,325.9 336.9,326.5 339.3,327.1 341.6,327.7 344,328.3 346.4,328.9 348.7,329.6 351.1,330.3 353.5,331 355.9,331.8 358.2,332.6 360.6,333.5 363,334.4 365.3,335.3 367.7,336.4 370.1,337.4 372.4,338.6 374.8,339.9 377.2,341.3 379.5,342.8 381.9,344.4 384.3,346.3 386.6,348.4 389,350.8 391.4,353.7 393.7,357.2 403.2,394.2 412.7,357.2 415,353.7 417.4,350.8 419.8,348.4 422.1,346.3 424.5,344.4 426.9,342.8 429.2,341.3 431.6,339.9 434,338.6 436.3,337.4 438.7,336.4 441.1,335.3 443.4,334.4 445.8,333.5 448.2,332.6 450.5,331.8 452.9,331 455.3,330.3 457.7,329.6 460,328.9 462.4,328.3 464.8,327.7 467.1,327.1 469.5,326.5 471.9,325.9 474.2,325.4 476.6,324.9 479,324.4 481.3,323.9 483.7,323.4 486.1,323 488.4,322.5 490.8,322.1 493.2,321.7 495.5,321.3 497.9,320.9"/><polyline points="308.5,322 310.9,322.4 313.2,322.8 315.6,323.2 318,323.6 320.3,324.1 322.7,324.5 325.1,325 327.4,325.5 329.8,326 332.2,326.5 334.5,327.1 336.9,327.6 339.3,328.2 341.6,328.8 344,329.4 346.4,330.1 348.7,330.7 351.1,331.4 353.5,332.2 355.9,332.9 358.2,333.7 360.6,334.6 363,335.5 365.3,336.5 367.7,337.5 370.1,338.6 372.4,339.7 374.8,341 377.2,342.4 379.5,343.9 381.9,345.6 384.3,347.4 386.6,349.5 389,352 391.4,354.8 393.7,358.4 403.2,398.8 412.7,358.4 415,354.8 417.4,352 419.8,349.5 422.1,347.4 424.5,345.6 426.9,343.9 429.2,342.4 431.6,341 434,339.7 436.3,338.6 438.7,337.5 441.1,336.5 443.4,335.5 445.8,334.6 448.2,333.7 450.5,332.9 452.9,332.2 455.3,331.4 457.7,330.7 460,330.1 462.4,329.4 464.8,328.8 467.1,328.2 469.5,327.6 471.9,327.1 474.2,326.5 476.6,326 479,325.5 481.3,325 483.7,324.5 486.1,324.1 488.4,323.6 490.8,323.2 493.2,322.8 495.5,322.4 497.9,322"/><polyline points="308.5,323.1 310.9,323.5 313.2,323.9 315.6,324.3 318,324.8 320.3,325.2 322.7,325.7 325.1,326.1 327.4,326.6 329.8,327.1 332.2,327.6 334.5,328.2 336.9,328.7 339.3,329.3 341.6,329.9 344,330.5 346.4,331.2 348.7,331.8 351.1,332.6 353.5,333.3 355.9,334.1 358.2,334.9 360.6,335.7 363,336.6 365.3,337.6 367.7,338.6 370.1,339.7 372.4,340.9 374.8,342.1 377.2,343.5 379.5,345 381.9,346.7 384.3,348.5 386.6,350.7 389,353.1 391.4,356 393.7,359.5 403.2,403.4 412.7,359.5 415,356 417.4,353.1 419.8,350.7 422.1,348.5 424.5,346.7 426.9,345 429.2,343.5 431.6,342.1 434,340.9 436.3,339.7 438.7,338.6 441.1,337.6 443.4,336.6 445.8,335.7 448.2,334.9 450.5,334.1 452.9,333.3 455.3,332.6 457.7,331.8 460,331.2 462.4,330.5 464.8,329.9 467.1,329.3 469.5,328.7 471.9,328.2 474.2,327.6 476.6,327.1 479,326.6 481.3,326.1 483.7,325.7 486.1,325.2 488.4,324.8 490.8,324.3 493.2,323.9 495.5,323.5 497.9,323.1"/><polyline points="308.5,324.2 310.9,324.6 313.2,325 315.6,325.5 318,325.9 320.3,326.3 322.7,326.8 325.1,327.3 327.4,327.8 329.8,328.3 332.2,328.8 334.5,329.3 336.9,329.9 339.3,330.4 341.6,331 344,331.7 346.4,332.3 348.7,333 351.1,333.7 353.5,334.4 355.9,335.2 358.2,336 360.6,336.8 363,337.8 365.3,338.7 367.7,339.7 370.1,340.8 372.4,342 374.8,343.3 377.2,344.6 379.5,346.1 381.9,347.8 384.3,349.7 386.6,351.8 389,354.2 391.4,357.1 393.7,360.6 403.2,408 412.7,360.6 415,357.1 417.4,354.2 419.8,351.8 422.1,349.7 424.5,347.8 426.9,346.1 429.2,344.6 431.6,343.3 434,342 436.3,340.8 438.7,339.7 441.1,338.7 443.4,337.8 445.8,336.8 448.2,336 450.5,335.2 452.9,334.4 455.3,333.7 457.7,333 460,332.3 462.4,331.7 464.8,331 467.1,330.4 469.5,329.9 471.9,329.3 474.2,328.8 476.6,328.3 479,327.8 481.3,327.3 483.7,326.8 486.1,326.3 488.4,325.9 490.8,325.5 493.2,325 495.5,324.6 497.9,324.2"/><polyline points="308.5,325.4 310.9,325.8 313.2,326.2 315.6,326.6 318,327 320.3,327.5 322.7,327.9 325.1,328.4 327.4,328.9 329.8,329.4 332.2,329.9 334.5,330.4 336.9,331 339.3,331.6 341.6,332.2 344,332.8 346.4,333.4 348.7,334.1 351.1,334.8 353.5,335.5 355.9,336.3 358.2,337.1 360.6,338 363,338.9 365.3,339.8 367.7,340.9 370.1,341.9 372.4,343.1 374.8,344.4 377.2,345.8 379.5,347.3 381.9,348.9 384.3,350.8 386.6,352.9 389,355.3 391.4,358.2 393.7,361.8 403.2,412.6 412.7,361.8 415,358.2 417.4,355.3 419.8,352.9 422.1,350.8 424.5,348.9 426.9,347.3 429.2,345.8 431.6,344.4 434,343.1 436.3,341.9 438.7,340.9 441.1,339.8 443.4,338.9 445.8,338 448.2,337.1 450.5,336.3 452.9,335.5 455.3,334.8 457.7,334.1 460,333.4 462.4,332.8 464.8,332.2 467.1,331.6 469.5,331 471.9,330.4 474.2,329.9 476.6,329.4 479,328.9 481.3,328.4 483.7,327.9 486.1,327.5 488.4,327 490.8,326.6 493.2,326.2 495.5,325.8 497.9,325.4"/><polyline points="308.5,326.5 310.9,326.9 313.2,327.3 315.6,327.7 318,328.1 320.3,328.6 322.7,329 325.1,329.5 327.4,330 329.8,330.5 332.2,331 334.5,331.6 336.9,332.1 339.3,332.7 341.6,333.3 344,333.9 346.4,334.6 348.7,335.2 351.1,335.9 353.5,336.7 355.9,337.4 358.2,338.2 360.6,339.1 363,340 365.3,341 367.7,342 370.1,343.1 372.4,344.2 374.8,345.5 377.2,346.9 379.5,348.4 381.9,350.1 384.3,351.9 386.6,354 389,356.5 391.4,359.3 393.7,362.9 403.2,417.2 412.7,362.9 415,359.3 417.4,356.5 419.8,354 422.1,351.9 424.5,350.1 426.9,348.4 429.2,346.9 431.6,345.5 434,344.2 436.3,343.1 438.7,342 441.1,341 443.4,340 445.8,339.1 448.2,338.2 450.5,337.4 452.9,336.7 455.3,335.9 457.7,335.2 460,334.6 462.4,333.9 464.8,333.3 467.1,332.7 469.5,332.1 471.9,331.6 474.2,331 476.6,330.5 479,330 481.3,329.5 483.7,329 486.1,328.6 488.4,328.1 490.8,327.7 493.2,327.3 495.5,326.9 497.9,326.5"/><polyline points="308.5,327.6 310.9,328 313.2,328.4 315.6,328.8 318,329.3 320.3,329.7 322.7,330.2 325.1,330.6 327.4,331.1 329.8,331.6 332.2,332.1 334.5,332.7 336.9,333.2 339.3,333.8 341.6,334.4 344,335 346.4,335.7 348.7,336.3 351.1,337.1 353.5,337.8 355.9,338.6 358.2,339.4 360.6,340.2 363,341.1 365.3,342.1 367.7,343.1 370.1,344.2 372.4,345.4 374.8,346.6 377.2,348 379.5,349.5 381.9,351.2 384.3,353 386.6,355.2 389,357.6 391.4,360.5 393.7,364 403.2,421.8 412.7,364 415,360.5 417.4,357.6 419.8,355.2 422.1,353 424.5,351.2 426.9,349.5 429.2,348 431.6,346.6 434,345.4 436.3,344.2 438.7,343.1 441.1,342.1 443.4,341.1 445.8,340.2 448.2,339.4 450.5,338.6 452.9,337.8 455.3,337.1 457.7,336.3 460,335.7 462.4,335 464.8,334.4 467.1,333.8 469.5,333.2 471.9,332.7 474.2,332.1 476.6,331.6 479,331.1 481.3,330.6 483.7,330.2 486.1,329.7 488.4,329.3 490.8,328.8 493.2,328.4 495.5,328 497.9,327.6"/></g>
<polyline points="308.5,325.2 310.9,325.6 313.2,326 315.6,326.4 318,326.9 320.3,327.3 322.7,327.8 325.1,328.2 327.4,328.7 329.8,329.2 332.2,329.7 334.5,330.3 336.9,330.8 339.3,331.4 341.6,332 344,332.6 346.4,333.3 348.7,333.9 351.1,334.7 353.5,335.4 355.9,336.2 358.2,337 360.6,337.8 363,338.7 365.3,339.7 367.7,340.7 370.1,341.8 372.4,343 374.8,344.2 377.2,345.6 379.5,347.1 381.9,348.8 384.3,350.6 386.6,352.8 389,355.2 391.4,358.1 393.7,361.6 403.2,410 412.7,361.6 415,358.1 417.4,355.2 419.8,352.8 422.1,350.6 424.5,348.8 426.9,347.1 429.2,345.6 431.6,344.2 434,343 436.3,341.8 438.7,340.7 441.1,339.7 443.4,338.7 445.8,337.8 448.2,337 450.5,336.2 452.9,335.4 455.3,334.7 457.7,333.9 460,333.3 462.4,332.6 464.8,332 467.1,331.4 469.5,330.8 471.9,330.3 474.2,329.7 476.6,329.2 479,328.7 481.3,328.2 483.7,327.8 486.1,327.3 488.4,326.9 490.8,326.4 493.2,326 495.5,325.6 497.9,325.2" stroke="#4fa94f" stroke-width="0.6" fill="none" stroke-linejoin="round"/>
<polyline points="308.5,320.4 310.9,320.8 313.2,321.2 315.6,321.6 318,322.1 320.3,322.5 322.7,323 325.1,323.4 327.4,323.9 329.8,324.4 332.2,324.9 334.5,325.5 336.9,326 339.3,326.6 341.6,327.2 344,327.8 346.4,328.5 348.7,329.1 351.1,329.9 353.5,330.6 355.9,331.4 358.2,332.2 360.6,333 363,333.9 365.3,334.9 367.7,335.9 370.1,337 372.4,338.2 374.8,339.4 377.2,340.8 379.5,342.3 381.9,344 384.3,345.8 386.6,348 389,350.4 391.4,353.3 393.7,356.8 403.2,395 412.7,356.8 415,353.3 417.4,350.4 419.8,348 422.1,345.8 424.5,344 426.9,342.3 429.2,340.8 431.6,339.4 434,338.2 436.3,337 438.7,335.9 441.1,334.9 443.4,333.9 445.8,333 448.2,332.2 450.5,331.4 452.9,330.6 455.3,329.9 457.7,329.1 460,328.5 462.4,327.8 464.8,327.2 467.1,326.6 469.5,326 471.9,325.5 474.2,324.9 476.6,324.4 479,323.9 481.3,323.4 483.7,323 486.1,322.5 488.4,322.1 490.8,321.6 493.2,321.2 495.5,320.8 497.9,320.4" stroke="#5cb35c" stroke-width="0.5" fill="none" stroke-linejoin="round"/>
<g stroke="#f20d0d" stroke-width="2.5" fill="none" stroke-linejoin="round"><polyline points="308.5,274.4 310.9,274.8 313.2,275.2 315.6,275.6 318,276.1 320.3,276.5 322.7,277 325.1,277.4 327.4,277.9 329.8,278.4 332.2,278.9 334.5,279.5 336.9,280 339.3,280.6 341.6,281.2 344,281.8 346.4,282.5 348.7,283.1 351.1,283.9 353.5,284.6 355.9,285.4 358.2,286.2 360.6,287 363,287.9 365.3,288.9 367.7,289.9 370.1,291 372.4,292.2 374.8,293.4 377.2,294.8 379.5,296.3 381.9,298 384.3,299.8 386.6,302 389,304.4 391.4,307.3 393.7,310.8 403.2,350 412.7,310.8 415,307.3 417.4,304.4 419.8,302 422.1,299.8 424.5,298 426.9,296.3 429.2,294.8 431.6,293.4 434,292.2 436.3,291 438.7,289.9 441.1,288.9 443.4,287.9 445.8,287 448.2,286.2 450.5,285.4 452.9,284.6 455.3,283.9 457.7,283.1 460,282.5 462.4,281.8 464.8,281.2 467.1,280.6 469.5,280 471.9,279.5 474.2,278.9 476.6,278.4 479,277.9 481.3,277.4 483.7,277 486.1,276.5 488.4,276.1 490.8,275.6 493.2,275.2 495.5,274.8 497.9,274.4"/><polyline points="308.5,275.2 310.9,275.6 313.2,276 315.6,276.4 318,276.9 320.3,277.3 322.7,277.8 325.1,278.2 327.4,278.7 329.8,279.2 332.2,279.7 334.5,280.3 336.9,280.8 339.3,281.4 341.6,282 344,282.6 346.4,283.3 348.7,283.9 351.1,284.7 353.5,285.4 355.9,286.2 358.2,287 360.6,287.8 363,288.7 365.3,289.7 367.7,290.7 370.1,291.8 372.4,293 374.8,294.2 377.2,295.6 379.5,297.1 381.9,298.8 384.3,300.6 386.6,302.8 389,305.2 391.4,308.1 393.7,311.6 403.2,352.7 412.7,311.6 415,308.1 417.4,305.2 419.8,302.8 422.1,300.6 424.5,298.8 426.9,297.1 429.2,295.6 431.6,294.2 434,293 436.3,291.8 438.7,290.7 441.1,289.7 443.4,288.7 445.8,287.8 448.2,287 450.5,286.2 452.9,285.4 455.3,284.7 457.7,283.9 460,283.3 462.4,282.6 464.8,282 467.1,281.4 469.5,280.8 471.9,280.3 474.2,279.7 476.6,279.2 479,278.7 481.3,278.2 483.7,277.8 486.1,277.3 488.4,276.9 490.8,276.4 493.2,276 495.5,275.6 497.9,275.2"/><polyline points="308.5,276 310.9,276.4 313.2,276.8 315.6,277.2 318,277.7 320.3,278.1 322.7,278.6 325.1,279 327.4,279.5 329.8,280 332.2,280.5 334.5,281.1 336.9,281.6 339.3,282.2 341.6,282.8 344,283.4 346.4,284.1 348.7,284.7 351.1,285.5 353.5,286.2 355.9,287 358.2,287.8 360.6,288.6 363,289.5 365.3,290.5 367.7,291.5 370.1,292.6 372.4,293.8 374.8,295 377.2,296.4 379.5,297.9 381.9,299.6 384.3,301.4 386.6,303.6 389,306 391.4,308.9 393.7,312.4 403.2,355.4 412.7,312.4 415,308.9 417.4,306 419.8,303.6 422.1,301.4 424.5,299.6 426.9,297.9 429.2,296.4 431.6,295 434,293.8 436.3,292.6 438.7,291.5 441.1,290.5 443.4,289.5 445.8,288.6 448.2,287.8 450.5,287 452.9,286.2 455.3,285.5 457.7,284.7 460,284.1 462.4,283.4 464.8,282.8 467.1,282.2 469.5,281.6 471.9,281.1 474.2,280.5 476.6,280 479,279.5 481.3,279 483.7,278.6 486.1,278.1 488.4,277.7 490.8,277.2 493.2,276.8 495.5,276.4 497.9,276"/><polyline points="308.5,276.8 310.9,277.2 313.2,277.6 315.6,278 318,278.5 320.3,278.9 322.7,279.4 325.1,279.8 327.4,280.3 329.8,280.8 332.2,281.3 334.5,281.9 336.9,282.4 339.3,283 341.6,283.6 344,284.2 346.4,284.9 348.7,285.5 351.1,286.3 353.5,287 355.9,287.8 358.2,288.6 360.6,289.4 363,290.3 365.3,291.3 367.7,292.3 370.1,293.4 372.4,294.6 374.8,295.8 377.2,297.2 379.5,298.7 381.9,300.4 384.3,302.2 386.6,304.4 389,306.8 391.4,309.7 393.7,313.2 403.2,358.1 412.7,313.2 415,309.7 417.4,306.8 419.8,304.4 422.1,302.2 424.5,300.4 426.9,298.7 429.2,297.2 431.6,295.8 434,294.6 436.3,293.4 438.7,292.3 441.1,291.3 443.4,290.3 445.8,289.4 448.2,288.6 450.5,287.8 452.9,287 455.3,286.3 457.7,285.5 460,284.9 462.4,284.2 464.8,283.6 467.1,283 469.5,282.4 471.9,281.9 474.2,281.3 476.6,280.8 479,280.3 481.3,279.8 483.7,279.4 486.1,278.9 488.4,278.5 490.8,278 493.2,277.6 495.5,277.2 497.9,276.8"/><polyline points="308.5,277.6 310.9,278 313.2,278.4 315.6,278.8 318,279.3 320.3,279.7 322.7,280.2 325.1,280.6 327.4,281.1 329.8,281.6 332.2,282.1 334.5,282.7 336.9,283.2 339.3,283.8 341.6,284.4 344,285 346.4,285.7 348.7,286.3 351.1,287.1 353.5,287.8 355.9,288.6 358.2,289.4 360.6,290.2 363,291.1 365.3,292.1 367.7,293.1 370.1,294.2 372.4,295.4 374.8,296.6 377.2,298 379.5,299.5 381.9,301.2 384.3,303 386.6,305.2 389,307.6 391.4,310.5 393.7,314 403.2,360.8 412.7,314 415,310.5 417.4,307.6 419.8,305.2 422.1,303 424.5,301.2 426.9,299.5 429.2,298 431.6,296.6 434,295.4 436.3,294.2 438.7,293.1 441.1,292.1 443.4,291.1 445.8,290.2 448.2,289.4 450.5,288.6 452.9,287.8 455.3,287.1 457.7,286.3 460,285.7 462.4,285 464.8,284.4 467.1,283.8 469.5,283.2 471.9,282.7 474.2,282.1 476.6,281.6 479,281.1 481.3,280.6 483.7,280.2 486.1,279.7 488.4,279.3 490.8,278.8 493.2,278.4 495.5,278 497.9,277.6"/><polyline points="308.5,278.4 310.9,278.8 313.2,279.2 315.6,279.6 318,280.1 320.3,280.5 322.7,281 325.1,281.4 327.4,281.9 329.8,282.4 332.2,282.9 334.5,283.5 336.9,284 339.3,284.6 341.6,285.2 344,285.8 346.4,286.5 348.7,287.1 351.1,287.9 353.5,288.6 355.9,289.4 358.2,290.2 360.6,291 363,291.9 365.3,292.9 367.7,293.9 370.1,295 372.4,296.2 374.8,297.4 377.2,298.8 379.5,300.3 381.9,302 384.3,303.8 386.6,306 389,308.4 391.4,311.3 393.7,314.8 403.2,363.5 412.7,314.8 415,311.3 417.4,308.4 419.8,306 422.1,303.8 424.5,302 426.9,300.3 429.2,298.8 431.6,297.4 434,296.2 436.3,295 438.7,293.9 441.1,292.9 443.4,291.9 445.8,291 448.2,290.2 450.5,289.4 452.9,288.6 455.3,287.9 457.7,287.1 460,286.5 462.4,285.8 464.8,285.2 467.1,284.6 469.5,284 471.9,283.5 474.2,282.9 476.6,282.4 479,281.9 481.3,281.4 483.7,281 486.1,280.5 488.4,280.1 490.8,279.6 493.2,279.2 495.5,278.8 497.9,278.4"/></g>
<polyline points="308.5,268.5 310.9,268.9 313.2,269.3 315.6,269.7 318,270.2 320.3,270.6 322.7,271.1 325.1,271.5 327.4,272 329.8,272.5 332.2,273 334.5,273.6 336.9,274.1 339.3,274.7 341.6,275.3 344,275.9 346.4,276.6 348.7,277.2 351.1,278 353.5,278.7 355.9,279.5 358.2,280.3 360.6,281.1 363,282 365.3,283 367.7,284 370.1,285.1 372.4,286.3 374.8,287.5 377.2,288.9 379.5,290.4 381.9,292.1 384.3,293.9 386.6,296.1 389,298.5 391.4,301.4 393.7,304.9 403.2,337.3 412.7,304.9 415,301.4 417.4,298.5 419.8,296.1 422.1,293.9 424.5,292.1 426.9,290.4 429.2,288.9 431.6,287.5 434,286.3 436.3,285.1 438.7,284 441.1,283 443.4,282 445.8,281.1 448.2,280.3 450.5,279.5 452.9,278.7 455.3,278 457.7,277.2 460,276.6 462.4,275.9 464.8,275.3 467.1,274.7 469.5,274.1 471.9,273.6 474.2,273 476.6,272.5 479,272 481.3,271.5 483.7,271.1 486.1,270.6 488.4,270.2 490.8,269.7 493.2,269.3 495.5,268.9 497.9,268.5" stroke="#24338f" stroke-width="1.4" fill="none" stroke-linejoin="round"/>
<path d="M308.5 434.3v-2.5M308.5 252.3v2.5M355.9 434.3v-2.5M355.9 252.3v2.5M403.2 434.3v-2.5M403.2 252.3v2.5M450.5 434.3v-2.5M450.5 252.3v2.5M497.9 434.3v-2.5M497.9 252.3v2.5M308.5 252.3h2.5M497.9 252.3h-2.5M308.5 288.7h2.5M497.9 288.7h-2.5M308.5 325.1h2.5M497.9 325.1h-2.5M308.5 361.5h2.5M497.9 361.5h-2.5M308.5 397.9h2.5M497.9 397.9h-2.5M308.5 434.3h2.5M497.9 434.3h-2.5M308.5 434.3v-1.5M308.5 252.3v1.5M318 434.3v-1.5M318 252.3v1.5M327.4 434.3v-1.5M327.4 252.3v1.5M336.9 434.3v-1.5M336.9 252.3v1.5M346.4 434.3v-1.5M346.4 252.3v1.5M355.9 434.3v-1.5M355.9 252.3v1.5M365.3 434.3v-1.5M365.3 252.3v1.5M374.8 434.3v-1.5M374.8 252.3v1.5M384.3 434.3v-1.5M384.3 252.3v1.5M393.7 434.3v-1.5M393.7 252.3v1.5M403.2 434.3v-1.5M403.2 252.3v1.5M412.7 434.3v-1.5M412.7 252.3v1.5M422.1 434.3v-1.5M422.1 252.3v1.5M431.6 434.3v-1.5M431.6 252.3v1.5M441.1 434.3v-1.5M441.1 252.3v1.5M450.5 434.3v-1.5M450.5 252.3v1.5M460 434.3v-1.5M460 252.3v1.5M469.5 434.3v-1.5M469.5 252.3v1.5M479 434.3v-1.5M479 252.3v1.5M488.4 434.3v-1.5M488.4 252.3v1.5M497.9 434.3v-1.5M497.9 252.3v1.5M308.5 277.7h1.5M497.9 277.7h-1.5M308.5 271.3h1.5M497.9 271.3h-1.5M308.5 266.8h1.5M497.9 266.8h-1.5M308.5 263.3h1.5M497.9 263.3h-1.5M308.5 260.4h1.5M497.9 260.4h-1.5M308.5 257.9h1.5M497.9 257.9h-1.5M308.5 255.8h1.5M497.9 255.8h-1.5M308.5 254h1.5M497.9 254h-1.5M308.5 314.1h1.5M497.9 314.1h-1.5M308.5 307.7h1.5M497.9 307.7h-1.5M308.5 303.2h1.5M497.9 303.2h-1.5M308.5 299.7h1.5M497.9 299.7h-1.5M308.5 296.8h1.5M497.9 296.8h-1.5M308.5 294.3h1.5M497.9 294.3h-1.5M308.5 292.2h1.5M497.9 292.2h-1.5M308.5 290.4h1.5M497.9 290.4h-1.5M308.5 350.5h1.5M497.9 350.5h-1.5M308.5 344.1h1.5M497.9 344.1h-1.5M308.5 339.6h1.5M497.9 339.6h-1.5M308.5 336.1h1.5M497.9 336.1h-1.5M308.5 333.2h1.5M497.9 333.2h-1.5M308.5 330.7h1.5M497.9 330.7h-1.5M308.5 328.6h1.5M497.9 328.6h-1.5M308.5 326.8h1.5M497.9 326.8h-1.5M308.5 386.9h1.5M497.9 386.9h-1.5M308.5 380.5h1.5M497.9 380.5h-1.5M308.5 376h1.5M497.9 376h-1.5M308.5 372.5h1.5M497.9 372.5h-1.5M308.5 369.6h1.5M497.9 369.6h-1.5M308.5 367.1h1.5M497.9 367.1h-1.5M308.5 365h1.5M497.9 365h-1.5M308.5 363.2h1.5M497.9 363.2h-1.5M308.5 423.3h1.5M497.9 423.3h-1.5M308.5 416.9h1.5M497.9 416.9h-1.5M308.5 412.4h1.5M497.9 412.4h-1.5M308.5 408.9h1.5M497.9 408.9h-1.5M308.5 406h1.5M497.9 406h-1.5M308.5 403.5h1.5M497.9 403.5h-1.5M308.5 401.4h1.5M497.9 401.4h-1.5M308.5 399.6h1.5M497.9 399.6h-1.5" stroke="#8a8a8a" stroke-width="0.8" fill="none" />
<rect x="308.5" y="252.3" width="189.4" height="182" fill="none" stroke="#8a8a8a" stroke-width="1.1"/>
<text transform="translate(337.0 259.3) rotate(14)" font-size="12.2" font-style="italic" fill="#111">post-forming</text>
<path d="M355.5 266 L345.6 274" stroke="#111" stroke-width="1.5" fill="none" stroke-linecap="round"/>
<polyline points="350.1,273.7 345.6,274 346.9,269.7" stroke="#111" stroke-width="1.5" fill="none" stroke-linecap="round" stroke-linejoin="round"/>
<text transform="translate(321.5 299.5) rotate(9)" font-size="11.6" font-style="italic" fill="#111">LRS</text>
<path d="M333.3 289.5 L339.5 285" stroke="#111" stroke-width="1.5" fill="none" stroke-linecap="round"/>
<polyline points="335,285.1 339.5,285 338,289.2" stroke="#111" stroke-width="1.5" fill="none" stroke-linecap="round" stroke-linejoin="round"/>
<text transform="translate(321.5 349.5) rotate(9)" font-size="11.6" font-style="italic" fill="#111">HRS</text>
<path d="M335 339 L340.5 333.6" stroke="#111" stroke-width="1.5" fill="none" stroke-linecap="round"/>
<polyline points="336.1,334.4 340.5,333.6 339.6,338" stroke="#111" stroke-width="1.5" fill="none" stroke-linecap="round" stroke-linejoin="round"/>
<rect x="320.6" y="410.8" width="55" height="13" fill="#fff"/>
<text x="322" y="420.6" font-size="11.3" font-weight="bold" text-anchor="start" fill="#111" font-style="normal" >30x30&#181;m<tspan font-size="7.8" dy="-4.3">2</tspan></text>
<text x="284.6" y="257.3" font-size="10" fill="#262626">10<tspan font-size="7.4" dy="-6.4">-3</tspan></text>
<text x="284.6" y="293.7" font-size="10" fill="#262626">10<tspan font-size="7.4" dy="-6.4">-4</tspan></text>
<text x="284.6" y="330.1" font-size="10" fill="#262626">10<tspan font-size="7.4" dy="-6.4">-5</tspan></text>
<text x="284.6" y="366.5" font-size="10" fill="#262626">10<tspan font-size="7.4" dy="-6.4">-6</tspan></text>
<text x="284.6" y="402.9" font-size="10" fill="#262626">10<tspan font-size="7.4" dy="-6.4">-7</tspan></text>
<text x="284.6" y="439.3" font-size="10" fill="#262626">10<tspan font-size="7.4" dy="-6.4">-8</tspan></text>
<text x="308.1" y="449.2" font-size="10.2" font-weight="normal" text-anchor="middle" fill="#262626" font-style="normal" >-0.1</text>
<text x="355.5" y="449.2" font-size="10.2" font-weight="normal" text-anchor="middle" fill="#262626" font-style="normal" >-0.05</text>
<text x="403.2" y="449.2" font-size="10.2" font-weight="normal" text-anchor="middle" fill="#262626" font-style="normal" >0</text>
<text x="450.5" y="449.2" font-size="10.2" font-weight="normal" text-anchor="middle" fill="#262626" font-style="normal" >0.05</text>
<text x="497.9" y="449.2" font-size="10.2" font-weight="normal" text-anchor="middle" fill="#262626" font-style="normal" >0.1</text>
<text x="404" y="464.6" font-size="12.6" font-weight="bold" text-anchor="middle" fill="#111" font-style="normal" >Read voltage (V)</text>
<text transform="translate(281 343) rotate(-90)" font-size="12.6" font-weight="bold" text-anchor="middle" fill="#111">cell current (A)</text>
<text x="288" y="464" font-size="15" font-weight="bold" text-anchor="start" fill="#111" font-style="normal" >(d)</text>
<rect x="48" y="485.5" width="456.6" height="181.3" fill="#fff"/>
<g fill="none" stroke="#246b44" stroke-width="1.9"><circle cx="47.9" cy="589.3" r="3.55"/><circle cx="61" cy="584.5" r="3.55"/><circle cx="69.6" cy="583" r="3.55"/><circle cx="75.4" cy="584.1" r="3.55"/><circle cx="79.8" cy="581.6" r="3.55"/><circle cx="84.1" cy="587.4" r="3.55"/><circle cx="86.9" cy="580.7" r="3.55"/><circle cx="90.8" cy="576.8" r="3.55"/><circle cx="94.6" cy="578.8" r="3.55"/><circle cx="98.5" cy="576.8" r="3.55"/><circle cx="102.3" cy="577.8" r="3.55"/><circle cx="107.1" cy="569.1" r="3.55"/><circle cx="111" cy="573" r="3.55"/><circle cx="114.8" cy="571.1" r="3.55"/><circle cx="119.6" cy="572" r="3.55"/><circle cx="124.4" cy="567.2" r="3.55"/><circle cx="128.3" cy="565.3" r="3.55"/><circle cx="132.1" cy="563.3" r="3.55"/><circle cx="136.9" cy="567.2" r="3.55"/><circle cx="139.8" cy="565.3" r="3.55"/><circle cx="143.6" cy="556.6" r="3.55"/><circle cx="141.4" cy="564.7" r="3.55"/><circle cx="144.3" cy="557" r="3.55"/><circle cx="149.1" cy="555.1" r="3.55"/><circle cx="153.9" cy="558" r="3.55"/><circle cx="158.6" cy="559" r="3.55"/><circle cx="163.1" cy="574" r="3.55"/><circle cx="167.9" cy="585.5" r="3.55"/><circle cx="172.9" cy="558.2" r="3.55"/><circle cx="177.2" cy="574.6" r="3.55"/><circle cx="182.1" cy="569.8" r="3.55"/><circle cx="186.2" cy="582.6" r="3.55"/><circle cx="191.2" cy="576.6" r="3.55"/><circle cx="196" cy="552.5" r="3.55"/><circle cx="200.8" cy="577.5" r="3.55"/><circle cx="205.1" cy="564.1" r="3.55"/><circle cx="209.3" cy="589.9" r="3.55"/><circle cx="214.3" cy="541" r="3.55"/><circle cx="218.3" cy="528.2" r="3.55"/><circle cx="224.1" cy="529.1" r="3.55"/><circle cx="227.9" cy="534" r="3.55"/><circle cx="232.7" cy="529.1" r="3.55"/><circle cx="237.2" cy="543.9" r="3.55"/><circle cx="242" cy="560.4" r="3.55"/><circle cx="246.3" cy="577.7" r="3.55"/><circle cx="250.7" cy="576.7" r="3.55"/><circle cx="255.6" cy="580.5" r="3.55"/><circle cx="260.4" cy="580.5" r="3.55"/><circle cx="265.2" cy="579.5" r="3.55"/><circle cx="269.1" cy="566.1" r="3.55"/><circle cx="274.8" cy="570.9" r="3.55"/><circle cx="278.7" cy="574.7" r="3.55"/><circle cx="283.5" cy="578.6" r="3.55"/><circle cx="287.3" cy="567" r="3.55"/><circle cx="292.1" cy="560.7" r="3.55"/><circle cx="296.9" cy="573.8" r="3.55"/><circle cx="301.8" cy="575.7" r="3.55"/><circle cx="305.6" cy="584.3" r="3.55"/><circle cx="310.4" cy="576.6" r="3.55"/><circle cx="315.2" cy="575.7" r="3.55"/><circle cx="320" cy="580.5" r="3.55"/><circle cx="325.1" cy="557.6" r="3.55"/><circle cx="328.9" cy="564.8" r="3.55"/><circle cx="321.6" cy="579.9" r="3.55"/><circle cx="331.1" cy="581.3" r="3.55"/><circle cx="334.1" cy="580.9" r="3.55"/><circle cx="338.9" cy="563.6" r="3.55"/><circle cx="343.7" cy="572.2" r="3.55"/><circle cx="347.5" cy="558.8" r="3.55"/><circle cx="351.4" cy="558.8" r="3.55"/><circle cx="354.3" cy="557.8" r="3.55"/><circle cx="358.1" cy="560.7" r="3.55"/><circle cx="361.9" cy="569.3" r="3.55"/><circle cx="366.4" cy="548.2" r="3.55"/><circle cx="371" cy="577.6" r="3.55"/><circle cx="375.4" cy="562.6" r="3.55"/><circle cx="380.2" cy="583.8" r="3.55"/><circle cx="385" cy="554.9" r="3.55"/><circle cx="389.4" cy="554" r="3.55"/><circle cx="393.7" cy="583.8" r="3.55"/><circle cx="398.5" cy="560.7" r="3.55"/><circle cx="403.3" cy="553" r="3.55"/><circle cx="408.1" cy="570.3" r="3.55"/><circle cx="412.6" cy="575.3" r="3.55"/><circle cx="417.1" cy="563.1" r="3.55"/><circle cx="420.1" cy="589.5" r="3.55"/><circle cx="426.4" cy="554.9" r="3.55"/><circle cx="430.8" cy="554.9" r="3.55"/><circle cx="435.6" cy="551.1" r="3.55"/><circle cx="439.8" cy="566.1" r="3.55"/><circle cx="444.8" cy="552" r="3.55"/><circle cx="449.1" cy="580.9" r="3.55"/><circle cx="453.9" cy="554.9" r="3.55"/><circle cx="458.7" cy="546.8" r="3.55"/><circle cx="462.9" cy="559.7" r="3.55"/><circle cx="467.3" cy="579" r="3.55"/><circle cx="472.1" cy="577" r="3.55"/><circle cx="476.9" cy="565.5" r="3.55"/><circle cx="481.4" cy="579" r="3.55"/><circle cx="486" cy="565.5" r="3.55"/><circle cx="491" cy="565.5" r="3.55"/><circle cx="495.2" cy="547.2" r="3.55"/><circle cx="499.4" cy="573.2" r="3.55"/><circle cx="505.8" cy="568.4" r="3.55"/></g>
<g fill="none" stroke="#ea0c12" stroke-width="2.1"><rect x="54.6" y="638.5" width="5.8" height="5.8"/><rect x="57" y="637.5" width="5.8" height="5.8"/><rect x="59.4" y="640.5" width="5.8" height="5.8"/><rect x="61.8" y="637" width="5.8" height="5.8"/><rect x="64.2" y="639.8" width="5.8" height="5.8"/><rect x="66.6" y="638.8" width="5.8" height="5.8"/><rect x="69" y="636.9" width="5.8" height="5.8"/><rect x="71.4" y="639.6" width="5.8" height="5.8"/><rect x="73.8" y="636.8" width="5.8" height="5.8"/><rect x="76.2" y="639.2" width="5.8" height="5.8"/><rect x="78.6" y="637" width="5.8" height="5.8"/><rect x="81" y="637.1" width="5.8" height="5.8"/><rect x="83.4" y="639.1" width="5.8" height="5.8"/><rect x="85.8" y="641.6" width="5.8" height="5.8"/><rect x="88.2" y="637.3" width="5.8" height="5.8"/><rect x="90.6" y="637.9" width="5.8" height="5.8"/><rect x="93" y="640.4" width="5.8" height="5.8"/><rect x="95.4" y="642.3" width="5.8" height="5.8"/><rect x="97.8" y="640.1" width="5.8" height="5.8"/><rect x="100.2" y="639" width="5.8" height="5.8"/><rect x="102.6" y="642.5" width="5.8" height="5.8"/><rect x="105" y="636.9" width="5.8" height="5.8"/><rect x="107.4" y="643.2" width="5.8" height="5.8"/><rect x="109.8" y="639.5" width="5.8" height="5.8"/><rect x="112.2" y="638.5" width="5.8" height="5.8"/><rect x="114.6" y="638.4" width="5.8" height="5.8"/><rect x="117" y="640.1" width="5.8" height="5.8"/><rect x="119.4" y="643.4" width="5.8" height="5.8"/><rect x="121.8" y="639.3" width="5.8" height="5.8"/><rect x="124.2" y="641.9" width="5.8" height="5.8"/><rect x="126.6" y="642.3" width="5.8" height="5.8"/><rect x="129" y="640.5" width="5.8" height="5.8"/><rect x="131.4" y="639.4" width="5.8" height="5.8"/><rect x="133.8" y="636" width="5.8" height="5.8"/><rect x="136.2" y="636" width="5.8" height="5.8"/><rect x="138.6" y="637" width="5.8" height="5.8"/><rect x="141" y="640.4" width="5.8" height="5.8"/><rect x="143.4" y="638.6" width="5.8" height="5.8"/><rect x="145.8" y="637.8" width="5.8" height="5.8"/><rect x="148.2" y="639.7" width="5.8" height="5.8"/><rect x="150.6" y="637.8" width="5.8" height="5.8"/><rect x="153" y="636.7" width="5.8" height="5.8"/><rect x="155.4" y="640.2" width="5.8" height="5.8"/><rect x="157.8" y="639.5" width="5.8" height="5.8"/><rect x="160.2" y="636.3" width="5.8" height="5.8"/><rect x="162.6" y="638.6" width="5.8" height="5.8"/><rect x="165" y="638.3" width="5.8" height="5.8"/><rect x="167.4" y="640.7" width="5.8" height="5.8"/><rect x="169.8" y="639.7" width="5.8" height="5.8"/><rect x="172.2" y="636.6" width="5.8" height="5.8"/><rect x="174.6" y="641.5" width="5.8" height="5.8"/><rect x="177" y="635.4" width="5.8" height="5.8"/><rect x="179.4" y="638.7" width="5.8" height="5.8"/><rect x="181.8" y="640.4" width="5.8" height="5.8"/><rect x="184.2" y="637.4" width="5.8" height="5.8"/><rect x="186.6" y="639" width="5.8" height="5.8"/><rect x="189" y="636.8" width="5.8" height="5.8"/><rect x="191.4" y="639.9" width="5.8" height="5.8"/><rect x="193.8" y="640.4" width="5.8" height="5.8"/><rect x="196.2" y="639.5" width="5.8" height="5.8"/><rect x="198.6" y="641" width="5.8" height="5.8"/><rect x="201" y="638.2" width="5.8" height="5.8"/><rect x="203.4" y="642.5" width="5.8" height="5.8"/><rect x="205.8" y="641.7" width="5.8" height="5.8"/><rect x="208.2" y="641.5" width="5.8" height="5.8"/><rect x="210.6" y="640.5" width="5.8" height="5.8"/><rect x="213" y="643.7" width="5.8" height="5.8"/><rect x="215.4" y="644.6" width="5.8" height="5.8"/><rect x="217.8" y="640.6" width="5.8" height="5.8"/><rect x="220.2" y="642.2" width="5.8" height="5.8"/><rect x="222.6" y="637.1" width="5.8" height="5.8"/><rect x="225" y="642.6" width="5.8" height="5.8"/><rect x="227.4" y="642.1" width="5.8" height="5.8"/><rect x="229.8" y="645" width="5.8" height="5.8"/><rect x="232.2" y="643.6" width="5.8" height="5.8"/><rect x="234.6" y="639" width="5.8" height="5.8"/><rect x="45.9" y="643" width="5.8" height="5.8"/><rect x="160.1" y="634.7" width="5.8" height="5.8"/><rect x="168.8" y="634.1" width="5.8" height="5.8"/><rect x="210.1" y="636.6" width="5.8" height="5.8"/><rect x="235.1" y="636.6" width="5.8" height="5.8"/><rect x="206.3" y="644.1" width="5.8" height="5.8"/><rect x="214.1" y="644.1" width="5.8" height="5.8"/><rect x="227.5" y="644.1" width="5.8" height="5.8"/><rect x="234" y="643.1" width="5.8" height="5.8"/><rect x="237.9" y="636.3" width="5.8" height="5.8"/><rect x="242.7" y="635.4" width="5.8" height="5.8"/><rect x="247.5" y="631.5" width="5.8" height="5.8"/><rect x="251.3" y="647.9" width="5.8" height="5.8"/><rect x="256.1" y="646.9" width="5.8" height="5.8"/><rect x="260.9" y="647.9" width="5.8" height="5.8"/><rect x="266.7" y="645.9" width="5.8" height="5.8"/><rect x="270.6" y="641.1" width="5.8" height="5.8"/><rect x="275.4" y="638.3" width="5.8" height="5.8"/><rect x="279.2" y="645.9" width="5.8" height="5.8"/><rect x="284" y="646.9" width="5.8" height="5.8"/><rect x="289.8" y="645" width="5.8" height="5.8"/><rect x="294.6" y="641.1" width="5.8" height="5.8"/><rect x="299.4" y="644" width="5.8" height="5.8"/><rect x="303.3" y="631.5" width="5.8" height="5.8"/><rect x="308.1" y="645.9" width="5.8" height="5.8"/><rect x="312.9" y="644" width="5.8" height="5.8"/><rect x="316.7" y="635.4" width="5.8" height="5.8"/><rect x="321.5" y="645.9" width="5.8" height="5.8"/><rect x="327.3" y="644" width="5.8" height="5.8"/><rect x="332.1" y="648.6" width="5.8" height="5.8"/><rect x="336.9" y="649.5" width="5.8" height="5.8"/><rect x="341.7" y="647.5" width="5.8" height="5.8"/><rect x="346.5" y="648.9" width="5.8" height="5.8"/><rect x="351.3" y="647.9" width="5.8" height="5.8"/><rect x="356.1" y="647.8" width="5.8" height="5.8"/><rect x="360.9" y="647.6" width="5.8" height="5.8"/><rect x="365.7" y="649.9" width="5.8" height="5.8"/><rect x="370.5" y="647.8" width="5.8" height="5.8"/><rect x="375.3" y="648.2" width="5.8" height="5.8"/><rect x="380.1" y="648.7" width="5.8" height="5.8"/><rect x="384.9" y="650.2" width="5.8" height="5.8"/><rect x="389.7" y="647.7" width="5.8" height="5.8"/><rect x="394.5" y="648.8" width="5.8" height="5.8"/><rect x="399.3" y="649.2" width="5.8" height="5.8"/><rect x="404.1" y="650.2" width="5.8" height="5.8"/><rect x="408.9" y="650" width="5.8" height="5.8"/><rect x="413.7" y="650.2" width="5.8" height="5.8"/><rect x="418.5" y="648.3" width="5.8" height="5.8"/><rect x="423.3" y="648.7" width="5.8" height="5.8"/><rect x="428.1" y="648.5" width="5.8" height="5.8"/><rect x="432.9" y="650.2" width="5.8" height="5.8"/><rect x="437.7" y="650.5" width="5.8" height="5.8"/><rect x="442.5" y="647.9" width="5.8" height="5.8"/><rect x="447.3" y="648" width="5.8" height="5.8"/><rect x="452.1" y="648.1" width="5.8" height="5.8"/><rect x="456.9" y="648.1" width="5.8" height="5.8"/><rect x="461.7" y="649" width="5.8" height="5.8"/><rect x="466.5" y="649.3" width="5.8" height="5.8"/><rect x="334.1" y="642.6" width="5.8" height="5.8"/><rect x="343.1" y="642.1" width="5.8" height="5.8"/><rect x="363.1" y="642.1" width="5.8" height="5.8"/><rect x="369.1" y="643.1" width="5.8" height="5.8"/><rect x="389.1" y="643.6" width="5.8" height="5.8"/><rect x="407.9" y="652.6" width="5.8" height="5.8"/><rect x="445.1" y="641.9" width="5.8" height="5.8"/><rect x="463.1" y="643.1" width="5.8" height="5.8"/><rect x="478.5" y="616.6" width="5.8" height="5.8"/><rect x="469" y="638.5" width="5.8" height="5.8"/><rect x="487.2" y="636.8" width="5.8" height="5.8"/><rect x="473.3" y="647.2" width="5.8" height="5.8"/><rect x="482.9" y="648.1" width="5.8" height="5.8"/><rect x="491.5" y="646.3" width="5.8" height="5.8"/><rect x="496.7" y="647.2" width="5.8" height="5.8"/><rect x="501.9" y="647.2" width="5.8" height="5.8"/></g>
<line x1="49" y1="562.8" x2="504.6" y2="562.8" stroke="#1414d2" stroke-width="2.4" stroke-dasharray="6 3.2"/>
<line x1="49" y1="643.6" x2="504.6" y2="643.6" stroke="#e030e8" stroke-width="1.6" stroke-dasharray="5 2.4 1.4 2.4"/>
<rect x="418.5" y="490.3" width="71.5" height="36.9" fill="#fff" stroke="#bdbdbd" stroke-width="0.8"/>
<circle cx="440.4" cy="500" r="3.6" fill="#eefaf2" stroke="#246b44" stroke-width="2.0"/>
<rect x="437.4" y="513.2" width="6" height="6" fill="#fffbe0" stroke="#ea0c12" stroke-width="2.1"/>
<text x="459" y="504.8" font-size="12.2" font-weight="bold" text-anchor="start" fill="#111" font-style="normal" >HRS</text>
<text x="459" y="522.2" font-size="12.2" font-weight="bold" text-anchor="start" fill="#111" font-style="normal" >LRS</text>
<path d="M48 666.8v-3M48 485.5v3M139.3 666.8v-3M139.3 485.5v3M230.6 666.8v-3M230.6 485.5v3M322 666.8v-3M322 485.5v3M413.3 666.8v-3M413.3 485.5v3M504.6 666.8v-3M504.6 485.5v3M48 666.8h3M504.6 666.8h-3M48 621.5h3M504.6 621.5h-3M48 576.1h3M504.6 576.1h-3M48 530.8h3M504.6 530.8h-3M48 485.5h3M504.6 485.5h-3M48 653.2h1.6M504.6 653.2h-1.6M48 645.2h1.6M504.6 645.2h-1.6M48 639.5h1.6M504.6 639.5h-1.6M48 635.1h1.6M504.6 635.1h-1.6M48 631.5h1.6M504.6 631.5h-1.6M48 628.5h1.6M504.6 628.5h-1.6M48 625.9h1.6M504.6 625.9h-1.6M48 623.5h1.6M504.6 623.5h-1.6M48 607.8h1.6M504.6 607.8h-1.6M48 599.8h1.6M504.6 599.8h-1.6M48 594.2h1.6M504.6 594.2h-1.6M48 589.8h1.6M504.6 589.8h-1.6M48 586.2h1.6M504.6 586.2h-1.6M48 583.2h1.6M504.6 583.2h-1.6M48 580.5h1.6M504.6 580.5h-1.6M48 578.2h1.6M504.6 578.2h-1.6M48 562.5h1.6M504.6 562.5h-1.6M48 554.5h1.6M504.6 554.5h-1.6M48 548.9h1.6M504.6 548.9h-1.6M48 544.5h1.6M504.6 544.5h-1.6M48 540.9h1.6M504.6 540.9h-1.6M48 537.8h1.6M504.6 537.8h-1.6M48 535.2h1.6M504.6 535.2h-1.6M48 532.9h1.6M504.6 532.9h-1.6M48 517.2h1.6M504.6 517.2h-1.6M48 509.2h1.6M504.6 509.2h-1.6M48 503.5h1.6M504.6 503.5h-1.6M48 499.1h1.6M504.6 499.1h-1.6M48 495.6h1.6M504.6 495.6h-1.6M48 492.5h1.6M504.6 492.5h-1.6M48 489.9h1.6M504.6 489.9h-1.6M48 487.6h1.6M504.6 487.6h-1.6" stroke="#8a8a8a" stroke-width="0.8" fill="none" />
<rect x="48" y="485.5" width="456.6" height="181.3" fill="none" stroke="#8a8a8a" stroke-width="1.1"/>
<text x="54.4" y="550.8" font-size="12.2" font-weight="bold" text-anchor="start" fill="#111" font-style="normal" >HRS<tspan font-size="9.6" dy="5.2">mean</tspan><tspan dy="-5.2"> = 1.9 k</tspan><tspan font-weight="normal">&#937;</tspan></text>
<text x="52.3" y="661.4" font-size="12.2" font-weight="bold" text-anchor="start" fill="#111" font-style="normal" >LRS<tspan font-size="9.6" dy="5.2">mean</tspan><tspan dy="-5.2"> = 0.3 k</tspan><tspan font-weight="normal">&#937;</tspan></text>
<text x="22.0" y="671" font-size="13.8" fill="#262626">10<tspan font-size="8.6" dy="-8.6">2</tspan></text>
<text x="22.0" y="625.7" font-size="13.8" fill="#262626">10<tspan font-size="8.6" dy="-8.6">3</tspan></text>
<text x="22.0" y="580.4" font-size="13.8" fill="#262626">10<tspan font-size="8.6" dy="-8.6">4</tspan></text>
<text x="22.0" y="535" font-size="13.8" fill="#262626">10<tspan font-size="8.6" dy="-8.6">5</tspan></text>
<text x="22.0" y="489.7" font-size="13.8" fill="#262626">10<tspan font-size="8.6" dy="-8.6">6</tspan></text>
<text x="48.3" y="687.7" font-size="13.8" fill="#262626" text-anchor="middle">10<tspan font-size="8.6" dy="-8.6">0</tspan></text>
<text x="139.6" y="687.7" font-size="13.8" fill="#262626" text-anchor="middle">10<tspan font-size="8.6" dy="-8.6">2</tspan></text>
<text x="230.9" y="687.7" font-size="13.8" fill="#262626" text-anchor="middle">10<tspan font-size="8.6" dy="-8.6">4</tspan></text>
<text x="322.3" y="687.7" font-size="13.8" fill="#262626" text-anchor="middle">10<tspan font-size="8.6" dy="-8.6">6</tspan></text>
<text x="413.6" y="687.7" font-size="13.8" fill="#262626" text-anchor="middle">10<tspan font-size="8.6" dy="-8.6">8</tspan></text>
<text x="504.9" y="687.7" font-size="13.8" fill="#262626" text-anchor="middle">10<tspan font-size="8.6" dy="-8.6">10</tspan></text>
<text x="275" y="706.2" font-size="16.2" font-weight="bold" text-anchor="middle" fill="#111" font-style="normal" >Cycling endurance (cycles)</text>
<text transform="translate(13.0 577.6) rotate(-90)" font-size="15.6" font-weight="bold" text-anchor="middle" fill="#111">Resistance (<tspan font-weight="normal">&#937;</tspan>)</text>
<text x="18" y="700.2" font-size="17.5" font-weight="bold" text-anchor="start" fill="#111" font-style="normal" >(e)</text>
</svg></body></html>
